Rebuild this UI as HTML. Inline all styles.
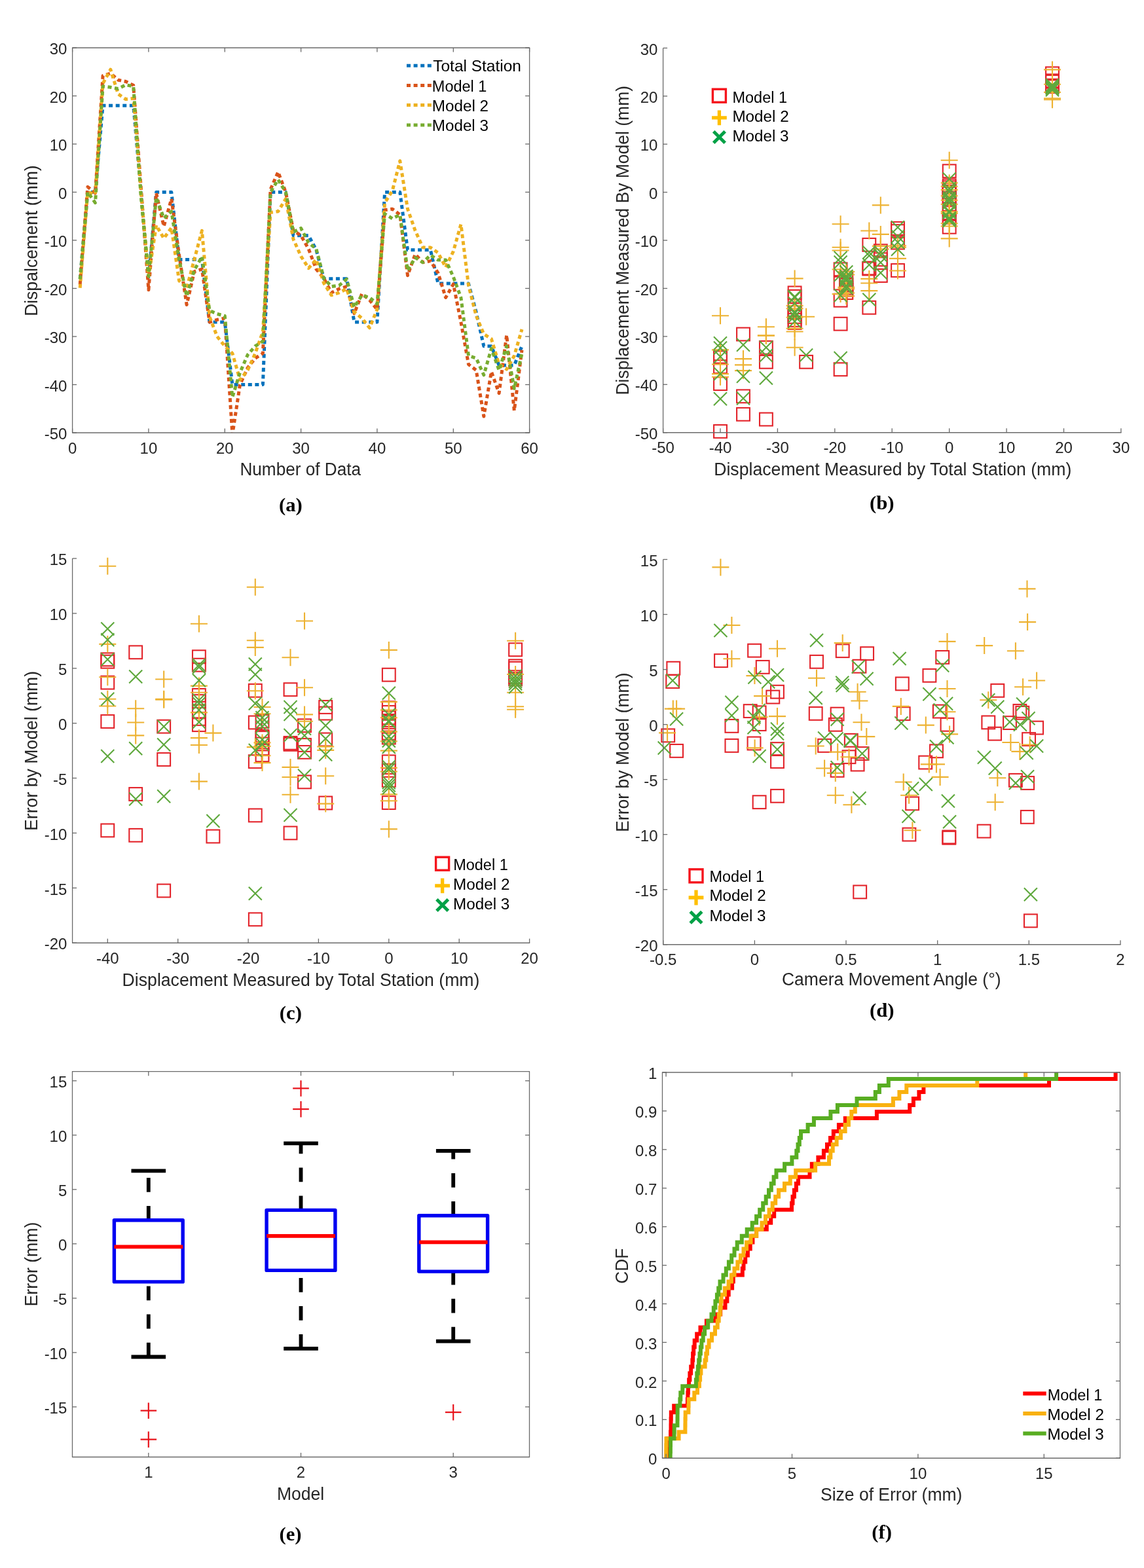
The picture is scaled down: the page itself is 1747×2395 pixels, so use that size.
<!DOCTYPE html>
<html><head><meta charset="utf-8"><style>
html,body{margin:0;padding:0;background:#fff;}
svg{display:block;}
.tk{font-family:"Liberation Sans",Arial,sans-serif;font-size:24.6px;fill:#262626;}
.lb{font-family:"Liberation Sans",Arial,sans-serif;font-size:27px;fill:#262626;}
.lg{font-family:"Liberation Sans",Arial,sans-serif;font-size:24.6px;fill:#000;}
.pl{font-family:"Liberation Serif","Times New Roman",serif;font-weight:bold;font-size:29px;fill:#000;}
</style></head><body>
<svg xmlns="http://www.w3.org/2000/svg" width="1747" height="2395" viewBox="0 0 1747 2395">
<rect width="1747" height="2395" fill="#fff"/>
<clipPath id="clipA"><rect x="110.6" y="73" width="698.0" height="588"/></clipPath>
<g clip-path="url(#clipA)">
<polyline points="122.2,425.8 133.9,293.5 145.5,293.5 157.1,161.2 168.8,161.2 180.4,161.2 192,161.2 203.7,161.2 215.3,293.5 226.9,425.8 238.6,293.5 250.2,293.5 261.8,293.5 273.5,396.4 285.1,396.4 296.7,396.4 308.4,396.4 320,492 331.6,492 343.3,492 354.9,587.5 366.5,587.5 378.2,587.5 389.8,587.5 401.4,587.5 413.1,293.5 424.7,293.5 436.3,293.5 448,359.7 459.6,359.7 471.2,359.7 482.9,381.7 494.5,425.8 506.1,425.8 517.8,425.8 529.4,425.8 541,492 552.7,492 564.3,492 575.9,492 587.6,293.5 599.2,293.5 610.8,293.5 622.5,381.7 634.1,381.7 645.7,381.7 657.4,381.7 669,433.1 680.6,433.1 692.3,433.1 703.9,433.1 715.5,433.1 727.2,477.2 738.8,528.7 750.4,528.7 762.1,558.1 773.7,558.1 785.3,558.1 797,528.7" fill="none" stroke="#0072BD" stroke-width="5" stroke-dasharray="6 4.6" stroke-linejoin="round"/>
<polyline points="122.2,434.6 133.9,285.4 145.5,295 157.1,115.6 168.8,112 180.4,122.2 192,124.5 203.7,130.3 215.3,286.2 226.9,442.7 238.6,295 250.2,345.7 261.8,303.8 273.5,389.1 285.1,465.5 296.7,414.8 308.4,411.1 320,492 331.6,488.3 343.3,486.1 354.9,663.9 366.5,587.5 378.2,561.8 389.8,547.1 401.4,539.7 413.1,289.1 424.7,262.6 436.3,293.5 448,352.3 459.6,359.7 471.2,380.2 482.9,411.1 494.5,425.1 506.1,447.1 517.8,441.2 529.4,437.6 541,478.7 552.7,448.6 564.3,458.1 575.9,472.8 587.6,320.7 599.2,319.2 610.8,328 622.5,420.7 634.1,388.3 645.7,400.8 657.4,398.6 669,417 680.6,454.5 692.3,433.9 703.9,492 715.5,556.6 727.2,565.5 738.8,636 750.4,567.7 762.1,600.7 773.7,511.8 785.3,627.2 797,534.6" fill="none" stroke="#D95319" stroke-width="5" stroke-dasharray="6 4.6" stroke-linejoin="round"/>
<polyline points="122.2,439.8 133.9,293.5 145.5,296.4 157.1,127.4 168.8,106.1 180.4,143.6 192,151.6 203.7,150.2 215.3,293.5 226.9,422.1 238.6,344.2 250.2,364.1 261.8,347.9 273.5,428.7 285.1,440.5 296.7,396.4 308.4,352.3 320,483.9 331.6,514 343.3,528.7 354.9,539.7 366.5,580.1 378.2,565.5 389.8,539.7 401.4,506.6 413.1,324.4 424.7,322.9 436.3,303.8 448,365.5 459.6,391.3 471.2,409.6 482.9,396.4 494.5,432.4 506.1,450.8 517.8,447.1 529.4,441.2 541,476.5 552.7,486.1 564.3,500.8 575.9,472.8 587.6,309.7 599.2,291.3 610.8,245.7 622.5,319.2 634.1,352.3 645.7,378 657.4,378 669,386.1 680.6,408.2 692.3,383.9 703.9,342.7 715.5,436.1 727.2,482.4 738.8,510.3 750.4,517.7 762.1,556.6 773.7,564 785.3,543.4 797,503" fill="none" stroke="#EDB120" stroke-width="5" stroke-dasharray="6 4.6" stroke-linejoin="round"/>
<polyline points="122.2,426.5 133.9,293.5 145.5,309.7 157.1,131.8 168.8,133.3 180.4,135.5 192,129.6 203.7,131.8 215.3,300.8 226.9,422.1 238.6,301.6 250.2,333.2 261.8,322.9 273.5,396.4 285.1,452.3 296.7,412.6 308.4,392 320,474.3 331.6,479.5 343.3,482.4 354.9,606.6 366.5,569.1 378.2,541.9 389.8,528.7 401.4,521.4 413.1,293.5 424.7,274.4 436.3,293.5 448,354.5 459.6,348.6 471.2,370.7 482.9,380.2 494.5,425.1 506.1,437.6 517.8,436.1 529.4,426.5 541,469.2 552.7,450.8 564.3,454.5 575.9,464 587.6,326.6 599.2,333.9 610.8,328 622.5,413.3 634.1,393.5 645.7,400.8 657.4,389.8 669,397.1 680.6,397.1 692.3,422.9 703.9,454.5 715.5,543.4 727.2,547.1 738.8,572.8 750.4,532.4 762.1,565.5 773.7,528.7 785.3,593.4 797,539.7" fill="none" stroke="#77AC30" stroke-width="5" stroke-dasharray="6 4.6" stroke-linejoin="round"/>
</g>
<line x1="110.6" y1="73" x2="110.6" y2="661" stroke="#6a6a6a" stroke-width="1.3"/>
<line x1="110" y1="661" x2="809.2" y2="661" stroke="#6a6a6a" stroke-width="1.6"/>
<line x1="808.6" y1="73" x2="808.6" y2="661" stroke="#6a6a6a" stroke-width="1.3"/>
<line x1="110" y1="73" x2="809.2" y2="73" stroke="#6a6a6a" stroke-width="1.3"/>
<line x1="110.6" y1="661" x2="110.6" y2="654.5" stroke="#6a6a6a" stroke-width="1.3"/>
<line x1="110.6" y1="73" x2="110.6" y2="79.5" stroke="#6a6a6a" stroke-width="1.3"/>
<text x="103.93" y="692.60" class="tk" textLength="13.34" lengthAdjust="spacingAndGlyphs">0</text>
<line x1="226.9" y1="661" x2="226.9" y2="654.5" stroke="#6a6a6a" stroke-width="1.3"/>
<line x1="226.9" y1="73" x2="226.9" y2="79.5" stroke="#6a6a6a" stroke-width="1.3"/>
<text x="213.59" y="692.60" class="tk" textLength="26.68" lengthAdjust="spacingAndGlyphs">10</text>
<line x1="343.3" y1="661" x2="343.3" y2="654.5" stroke="#6a6a6a" stroke-width="1.3"/>
<line x1="343.3" y1="73" x2="343.3" y2="79.5" stroke="#6a6a6a" stroke-width="1.3"/>
<text x="329.93" y="692.60" class="tk" textLength="26.68" lengthAdjust="spacingAndGlyphs">20</text>
<line x1="459.6" y1="661" x2="459.6" y2="654.5" stroke="#6a6a6a" stroke-width="1.3"/>
<line x1="459.6" y1="73" x2="459.6" y2="79.5" stroke="#6a6a6a" stroke-width="1.3"/>
<text x="446.26" y="692.60" class="tk" textLength="26.68" lengthAdjust="spacingAndGlyphs">30</text>
<line x1="575.9" y1="661" x2="575.9" y2="654.5" stroke="#6a6a6a" stroke-width="1.3"/>
<line x1="575.9" y1="73" x2="575.9" y2="79.5" stroke="#6a6a6a" stroke-width="1.3"/>
<text x="562.59" y="692.60" class="tk" textLength="26.68" lengthAdjust="spacingAndGlyphs">40</text>
<line x1="692.3" y1="661" x2="692.3" y2="654.5" stroke="#6a6a6a" stroke-width="1.3"/>
<line x1="692.3" y1="73" x2="692.3" y2="79.5" stroke="#6a6a6a" stroke-width="1.3"/>
<text x="678.93" y="692.60" class="tk" textLength="26.68" lengthAdjust="spacingAndGlyphs">50</text>
<line x1="808.6" y1="661" x2="808.6" y2="654.5" stroke="#6a6a6a" stroke-width="1.3"/>
<line x1="808.6" y1="73" x2="808.6" y2="79.5" stroke="#6a6a6a" stroke-width="1.3"/>
<text x="795.26" y="692.60" class="tk" textLength="26.68" lengthAdjust="spacingAndGlyphs">60</text>
<line x1="110.6" y1="661" x2="117.1" y2="661" stroke="#6a6a6a" stroke-width="1.3"/>
<line x1="808.6" y1="661" x2="802.1" y2="661" stroke="#6a6a6a" stroke-width="1.3"/>
<text x="67.73" y="671.20" class="tk" textLength="34.67" lengthAdjust="spacingAndGlyphs">-50</text>
<line x1="110.6" y1="587.5" x2="117.1" y2="587.5" stroke="#6a6a6a" stroke-width="1.3"/>
<line x1="808.6" y1="587.5" x2="802.1" y2="587.5" stroke="#6a6a6a" stroke-width="1.3"/>
<text x="67.73" y="597.70" class="tk" textLength="34.67" lengthAdjust="spacingAndGlyphs">-40</text>
<line x1="110.6" y1="514" x2="117.1" y2="514" stroke="#6a6a6a" stroke-width="1.3"/>
<line x1="808.6" y1="514" x2="802.1" y2="514" stroke="#6a6a6a" stroke-width="1.3"/>
<text x="67.73" y="524.20" class="tk" textLength="34.67" lengthAdjust="spacingAndGlyphs">-30</text>
<line x1="110.6" y1="440.5" x2="117.1" y2="440.5" stroke="#6a6a6a" stroke-width="1.3"/>
<line x1="808.6" y1="440.5" x2="802.1" y2="440.5" stroke="#6a6a6a" stroke-width="1.3"/>
<text x="67.73" y="450.70" class="tk" textLength="34.67" lengthAdjust="spacingAndGlyphs">-20</text>
<line x1="110.6" y1="367" x2="117.1" y2="367" stroke="#6a6a6a" stroke-width="1.3"/>
<line x1="808.6" y1="367" x2="802.1" y2="367" stroke="#6a6a6a" stroke-width="1.3"/>
<text x="67.73" y="377.20" class="tk" textLength="34.67" lengthAdjust="spacingAndGlyphs">-10</text>
<line x1="110.6" y1="293.5" x2="117.1" y2="293.5" stroke="#6a6a6a" stroke-width="1.3"/>
<line x1="808.6" y1="293.5" x2="802.1" y2="293.5" stroke="#6a6a6a" stroke-width="1.3"/>
<text x="89.06" y="303.70" class="tk" textLength="13.34" lengthAdjust="spacingAndGlyphs">0</text>
<line x1="110.6" y1="220" x2="117.1" y2="220" stroke="#6a6a6a" stroke-width="1.3"/>
<line x1="808.6" y1="220" x2="802.1" y2="220" stroke="#6a6a6a" stroke-width="1.3"/>
<text x="75.72" y="230.20" class="tk" textLength="26.68" lengthAdjust="spacingAndGlyphs">10</text>
<line x1="110.6" y1="146.5" x2="117.1" y2="146.5" stroke="#6a6a6a" stroke-width="1.3"/>
<line x1="808.6" y1="146.5" x2="802.1" y2="146.5" stroke="#6a6a6a" stroke-width="1.3"/>
<text x="75.72" y="156.70" class="tk" textLength="26.68" lengthAdjust="spacingAndGlyphs">20</text>
<line x1="110.6" y1="73" x2="117.1" y2="73" stroke="#6a6a6a" stroke-width="1.3"/>
<line x1="808.6" y1="73" x2="802.1" y2="73" stroke="#6a6a6a" stroke-width="1.3"/>
<text x="75.72" y="83.20" class="tk" textLength="26.68" lengthAdjust="spacingAndGlyphs">30</text>
<text x="366.44" y="726.20" class="lb" textLength="184.63" lengthAdjust="spacingAndGlyphs">Number of Data</text>
<text transform="translate(56.90,480.90) rotate(-90)" x="-2.20" y="0" class="lb" textLength="230.81" lengthAdjust="spacingAndGlyphs">Dispalcement (mm)</text>
<line x1="621" y1="100.2" x2="659" y2="100.2" stroke="#0072BD" stroke-width="5" stroke-dasharray="6 4.6"/>
<text x="661.25" y="109.30" class="lg" textLength="134.61" lengthAdjust="spacingAndGlyphs">Total Station</text>
<line x1="621" y1="130.5" x2="659" y2="130.5" stroke="#D95319" stroke-width="5" stroke-dasharray="6 4.6"/>
<text x="659.86" y="139.60" class="lg" textLength="83.56" lengthAdjust="spacingAndGlyphs">Model 1</text>
<line x1="621" y1="160.4" x2="659" y2="160.4" stroke="#EDB120" stroke-width="5" stroke-dasharray="6 4.6"/>
<text x="659.80" y="169.50" class="lg" textLength="86.32" lengthAdjust="spacingAndGlyphs">Model 2</text>
<line x1="621" y1="190.9" x2="659" y2="190.9" stroke="#77AC30" stroke-width="5" stroke-dasharray="6 4.6"/>
<text x="659.80" y="200.00" class="lg" textLength="86.13" lengthAdjust="spacingAndGlyphs">Model 3</text>
<text x="425.98" y="780.80" class="pl" textLength="35.84" lengthAdjust="spacingAndGlyphs">(a)</text>
<rect x="1090.1" y="534.8" width="19.8" height="19.8" fill="none" stroke="#E3242B" stroke-width="2.1"/>
<rect x="1090.1" y="536.3" width="19.8" height="19.8" fill="none" stroke="#E3242B" stroke-width="2.1"/>
<rect x="1090.1" y="550.2" width="19.8" height="19.8" fill="none" stroke="#E3242B" stroke-width="2.1"/>
<rect x="1090.1" y="576.2" width="19.8" height="19.8" fill="none" stroke="#E3242B" stroke-width="2.1"/>
<rect x="1090.1" y="649" width="19.8" height="19.8" fill="none" stroke="#E3242B" stroke-width="2.1"/>
<rect x="1125.1" y="500.6" width="19.8" height="19.8" fill="none" stroke="#E3242B" stroke-width="2.1"/>
<rect x="1125.1" y="595.4" width="19.8" height="19.8" fill="none" stroke="#E3242B" stroke-width="2.1"/>
<rect x="1125.1" y="622.9" width="19.8" height="19.8" fill="none" stroke="#E3242B" stroke-width="2.1"/>
<rect x="1160" y="520.9" width="19.8" height="19.8" fill="none" stroke="#E3242B" stroke-width="2.1"/>
<rect x="1160" y="542.9" width="19.8" height="19.8" fill="none" stroke="#E3242B" stroke-width="2.1"/>
<rect x="1160" y="630.6" width="19.8" height="19.8" fill="none" stroke="#E3242B" stroke-width="2.1"/>
<rect x="1203.7" y="437.5" width="19.8" height="19.8" fill="none" stroke="#E3242B" stroke-width="2.1"/>
<rect x="1203.7" y="443" width="19.8" height="19.8" fill="none" stroke="#E3242B" stroke-width="2.1"/>
<rect x="1203.7" y="463.2" width="19.8" height="19.8" fill="none" stroke="#E3242B" stroke-width="2.1"/>
<rect x="1203.7" y="467.3" width="19.8" height="19.8" fill="none" stroke="#E3242B" stroke-width="2.1"/>
<rect x="1203.7" y="474" width="19.8" height="19.8" fill="none" stroke="#E3242B" stroke-width="2.1"/>
<rect x="1203.7" y="479" width="19.8" height="19.8" fill="none" stroke="#E3242B" stroke-width="2.1"/>
<rect x="1203.7" y="483.1" width="19.8" height="19.8" fill="none" stroke="#E3242B" stroke-width="2.1"/>
<rect x="1221.2" y="542.9" width="19.8" height="19.8" fill="none" stroke="#E3242B" stroke-width="2.1"/>
<rect x="1273.7" y="401.4" width="19.8" height="19.8" fill="none" stroke="#E3242B" stroke-width="2.1"/>
<rect x="1273.7" y="422.7" width="19.8" height="19.8" fill="none" stroke="#E3242B" stroke-width="2.1"/>
<rect x="1273.7" y="448.8" width="19.8" height="19.8" fill="none" stroke="#E3242B" stroke-width="2.1"/>
<rect x="1273.7" y="484.8" width="19.8" height="19.8" fill="none" stroke="#E3242B" stroke-width="2.1"/>
<rect x="1273.7" y="554.3" width="19.8" height="19.8" fill="none" stroke="#E3242B" stroke-width="2.1"/>
<rect x="1282.4" y="414.6" width="19.8" height="19.8" fill="none" stroke="#E3242B" stroke-width="2.1"/>
<rect x="1282.4" y="425.6" width="19.8" height="19.8" fill="none" stroke="#E3242B" stroke-width="2.1"/>
<rect x="1282.4" y="429.8" width="19.8" height="19.8" fill="none" stroke="#E3242B" stroke-width="2.1"/>
<rect x="1282.4" y="437.2" width="19.8" height="19.8" fill="none" stroke="#E3242B" stroke-width="2.1"/>
<rect x="1282.4" y="424.7" width="19.8" height="19.8" fill="none" stroke="#E3242B" stroke-width="2.1"/>
<rect x="1282.4" y="432.8" width="19.8" height="19.8" fill="none" stroke="#E3242B" stroke-width="2.1"/>
<rect x="1317.4" y="364" width="19.8" height="19.8" fill="none" stroke="#E3242B" stroke-width="2.1"/>
<rect x="1317.4" y="400.6" width="19.8" height="19.8" fill="none" stroke="#E3242B" stroke-width="2.1"/>
<rect x="1317.4" y="399.7" width="19.8" height="19.8" fill="none" stroke="#E3242B" stroke-width="2.1"/>
<rect x="1317.4" y="459.9" width="19.8" height="19.8" fill="none" stroke="#E3242B" stroke-width="2.1"/>
<rect x="1334.9" y="373.4" width="19.8" height="19.8" fill="none" stroke="#E3242B" stroke-width="2.1"/>
<rect x="1334.9" y="386.4" width="19.8" height="19.8" fill="none" stroke="#E3242B" stroke-width="2.1"/>
<rect x="1334.9" y="391.2" width="19.8" height="19.8" fill="none" stroke="#E3242B" stroke-width="2.1"/>
<rect x="1334.9" y="411.1" width="19.8" height="19.8" fill="none" stroke="#E3242B" stroke-width="2.1"/>
<rect x="1361.1" y="339" width="19.8" height="19.8" fill="none" stroke="#E3242B" stroke-width="2.1"/>
<rect x="1361.1" y="343.2" width="19.8" height="19.8" fill="none" stroke="#E3242B" stroke-width="2.1"/>
<rect x="1361.1" y="360.7" width="19.8" height="19.8" fill="none" stroke="#E3242B" stroke-width="2.1"/>
<rect x="1361.1" y="403.1" width="19.8" height="19.8" fill="none" stroke="#E3242B" stroke-width="2.1"/>
<rect x="1439.8" y="251.4" width="19.8" height="19.8" fill="none" stroke="#E3242B" stroke-width="2.1"/>
<rect x="1439.8" y="273.5" width="19.8" height="19.8" fill="none" stroke="#E3242B" stroke-width="2.1"/>
<rect x="1439.8" y="276.4" width="19.8" height="19.8" fill="none" stroke="#E3242B" stroke-width="2.1"/>
<rect x="1439.8" y="280.1" width="19.8" height="19.8" fill="none" stroke="#E3242B" stroke-width="2.1"/>
<rect x="1439.8" y="283" width="19.8" height="19.8" fill="none" stroke="#E3242B" stroke-width="2.1"/>
<rect x="1439.8" y="285.9" width="19.8" height="19.8" fill="none" stroke="#E3242B" stroke-width="2.1"/>
<rect x="1439.8" y="290.3" width="19.8" height="19.8" fill="none" stroke="#E3242B" stroke-width="2.1"/>
<rect x="1439.8" y="293.3" width="19.8" height="19.8" fill="none" stroke="#E3242B" stroke-width="2.1"/>
<rect x="1439.8" y="309.4" width="19.8" height="19.8" fill="none" stroke="#E3242B" stroke-width="2.1"/>
<rect x="1439.8" y="315.3" width="19.8" height="19.8" fill="none" stroke="#E3242B" stroke-width="2.1"/>
<rect x="1439.8" y="321.9" width="19.8" height="19.8" fill="none" stroke="#E3242B" stroke-width="2.1"/>
<rect x="1439.8" y="336.9" width="19.8" height="19.8" fill="none" stroke="#E3242B" stroke-width="2.1"/>
<rect x="1597.1" y="102.4" width="19.8" height="19.8" fill="none" stroke="#E3242B" stroke-width="2.1"/>
<rect x="1597.1" y="113.4" width="19.8" height="19.8" fill="none" stroke="#E3242B" stroke-width="2.1"/>
<rect x="1597.1" y="114.9" width="19.8" height="19.8" fill="none" stroke="#E3242B" stroke-width="2.1"/>
<rect x="1597.1" y="120.8" width="19.8" height="19.8" fill="none" stroke="#E3242B" stroke-width="2.1"/>
<rect x="1597.1" y="122.2" width="19.8" height="19.8" fill="none" stroke="#E3242B" stroke-width="2.1"/>
<path d="M1087 482.3H1113M1100 469.3V495.3" stroke="#EDB232" stroke-width="2.1" fill="none"/>
<path d="M1087 534.4H1113M1100 521.4V547.4" stroke="#EDB232" stroke-width="2.1" fill="none"/>
<path d="M1087 556.5H1113M1100 543.5V569.5" stroke="#EDB232" stroke-width="2.1" fill="none"/>
<path d="M1087 571.1H1113M1100 558.1V584.1" stroke="#EDB232" stroke-width="2.1" fill="none"/>
<path d="M1087 575.8H1113M1100 562.8V588.8" stroke="#EDB232" stroke-width="2.1" fill="none"/>
<path d="M1122 548.1H1148M1135 535.1V561.1" stroke="#EDB232" stroke-width="2.1" fill="none"/>
<path d="M1122 557.4H1148M1135 544.4V570.4" stroke="#EDB232" stroke-width="2.1" fill="none"/>
<path d="M1122 566.1H1148M1135 553.1V579.1" stroke="#EDB232" stroke-width="2.1" fill="none"/>
<path d="M1156.9 499.2H1182.9M1169.9 486.2V512.2" stroke="#EDB232" stroke-width="2.1" fill="none"/>
<path d="M1156.9 512.8H1182.9M1169.9 499.8V525.8" stroke="#EDB232" stroke-width="2.1" fill="none"/>
<path d="M1156.9 512.4H1182.9M1169.9 499.4V525.4" stroke="#EDB232" stroke-width="2.1" fill="none"/>
<path d="M1200.6 425.4H1226.6M1213.6 412.4V438.4" stroke="#EDB232" stroke-width="2.1" fill="none"/>
<path d="M1200.6 466.9H1226.6M1213.6 453.9V479.9" stroke="#EDB232" stroke-width="2.1" fill="none"/>
<path d="M1200.6 471.3H1226.6M1213.6 458.3V484.3" stroke="#EDB232" stroke-width="2.1" fill="none"/>
<path d="M1200.6 484.7H1226.6M1213.6 471.7V497.7" stroke="#EDB232" stroke-width="2.1" fill="none"/>
<path d="M1200.6 501.7H1226.6M1213.6 488.7V514.7" stroke="#EDB232" stroke-width="2.1" fill="none"/>
<path d="M1200.6 506.5H1226.6M1213.6 493.5V519.5" stroke="#EDB232" stroke-width="2.1" fill="none"/>
<path d="M1200.6 530.8H1226.6M1213.6 517.8V543.8" stroke="#EDB232" stroke-width="2.1" fill="none"/>
<path d="M1218.1 483.7H1244.1M1231.1 470.7V496.7" stroke="#EDB232" stroke-width="2.1" fill="none"/>
<path d="M1270.6 342.2H1296.6M1283.6 329.2V355.2" stroke="#EDB232" stroke-width="2.1" fill="none"/>
<path d="M1270.6 377.8H1296.6M1283.6 364.8V390.8" stroke="#EDB232" stroke-width="2.1" fill="none"/>
<path d="M1270.6 382.5H1296.6M1283.6 369.5V395.5" stroke="#EDB232" stroke-width="2.1" fill="none"/>
<path d="M1270.6 411.5H1296.6M1283.6 398.5V424.5" stroke="#EDB232" stroke-width="2.1" fill="none"/>
<path d="M1270.6 449.1H1296.6M1283.6 436.1V462.1" stroke="#EDB232" stroke-width="2.1" fill="none"/>
<path d="M1279.3 415H1305.3M1292.3 402V428" stroke="#EDB232" stroke-width="2.1" fill="none"/>
<path d="M1279.3 419.5H1305.3M1292.3 406.5V432.5" stroke="#EDB232" stroke-width="2.1" fill="none"/>
<path d="M1279.3 438.8H1305.3M1292.3 425.8V451.8" stroke="#EDB232" stroke-width="2.1" fill="none"/>
<path d="M1279.3 441.2H1305.3M1292.3 428.2V454.2" stroke="#EDB232" stroke-width="2.1" fill="none"/>
<path d="M1279.3 447.5H1305.3M1292.3 434.5V460.5" stroke="#EDB232" stroke-width="2.1" fill="none"/>
<path d="M1279.3 452.2H1305.3M1292.3 439.2V465.2" stroke="#EDB232" stroke-width="2.1" fill="none"/>
<path d="M1314.3 352.5H1340.3M1327.3 339.5V365.5" stroke="#EDB232" stroke-width="2.1" fill="none"/>
<path d="M1314.3 425.9H1340.3M1327.3 412.9V438.9" stroke="#EDB232" stroke-width="2.1" fill="none"/>
<path d="M1314.3 432.5H1340.3M1327.3 419.5V445.5" stroke="#EDB232" stroke-width="2.1" fill="none"/>
<path d="M1314.3 444.1H1340.3M1327.3 431.1V457.1" stroke="#EDB232" stroke-width="2.1" fill="none"/>
<path d="M1331.8 313.4H1357.8M1344.8 300.4V326.4" stroke="#EDB232" stroke-width="2.1" fill="none"/>
<path d="M1331.8 357.9H1357.8M1344.8 344.9V370.9" stroke="#EDB232" stroke-width="2.1" fill="none"/>
<path d="M1331.8 375.9H1357.8M1344.8 362.9V388.9" stroke="#EDB232" stroke-width="2.1" fill="none"/>
<path d="M1331.8 380.5H1357.8M1344.8 367.5V393.5" stroke="#EDB232" stroke-width="2.1" fill="none"/>
<path d="M1358 375.3H1384M1371 362.3V388.3" stroke="#EDB232" stroke-width="2.1" fill="none"/>
<path d="M1358 377.8H1384M1371 364.8V390.8" stroke="#EDB232" stroke-width="2.1" fill="none"/>
<path d="M1358 394.9H1384M1371 381.9V407.9" stroke="#EDB232" stroke-width="2.1" fill="none"/>
<path d="M1358 413.5H1384M1371 400.5V426.5" stroke="#EDB232" stroke-width="2.1" fill="none"/>
<path d="M1436.7 244.7H1462.7M1449.7 231.7V257.7" stroke="#EDB232" stroke-width="2.1" fill="none"/>
<path d="M1436.7 279.4H1462.7M1449.7 266.4V292.4" stroke="#EDB232" stroke-width="2.1" fill="none"/>
<path d="M1436.7 284.8H1462.7M1449.7 271.8V297.8" stroke="#EDB232" stroke-width="2.1" fill="none"/>
<path d="M1436.7 290H1462.7M1449.7 277V303" stroke="#EDB232" stroke-width="2.1" fill="none"/>
<path d="M1436.7 299.3H1462.7M1449.7 286.3V312.3" stroke="#EDB232" stroke-width="2.1" fill="none"/>
<path d="M1436.7 305.7H1462.7M1449.7 292.7V318.7" stroke="#EDB232" stroke-width="2.1" fill="none"/>
<path d="M1436.7 312H1462.7M1449.7 299V325" stroke="#EDB232" stroke-width="2.1" fill="none"/>
<path d="M1436.7 323.4H1462.7M1449.7 310.4V336.4" stroke="#EDB232" stroke-width="2.1" fill="none"/>
<path d="M1436.7 325.9H1462.7M1449.7 312.9V338.9" stroke="#EDB232" stroke-width="2.1" fill="none"/>
<path d="M1436.7 341.2H1462.7M1449.7 328.2V354.2" stroke="#EDB232" stroke-width="2.1" fill="none"/>
<path d="M1436.7 345.5H1462.7M1449.7 332.5V358.5" stroke="#EDB232" stroke-width="2.1" fill="none"/>
<path d="M1436.7 364.4H1462.7M1449.7 351.4V377.4" stroke="#EDB232" stroke-width="2.1" fill="none"/>
<path d="M1594 106.4H1620M1607 93.4V119.4" stroke="#EDB232" stroke-width="2.1" fill="none"/>
<path d="M1594 128.8H1620M1607 115.8V141.8" stroke="#EDB232" stroke-width="2.1" fill="none"/>
<path d="M1594 140.9H1620M1607 127.9V153.9" stroke="#EDB232" stroke-width="2.1" fill="none"/>
<path d="M1594 150.4H1620M1607 137.4V163.4" stroke="#EDB232" stroke-width="2.1" fill="none"/>
<path d="M1594 152.3H1620M1607 139.3V165.3" stroke="#EDB232" stroke-width="2.1" fill="none"/>
<path d="M1090 514.2L1110 534.2M1090 534.2L1110 514.2" stroke="#5EA83C" stroke-width="2.1" fill="none"/>
<path d="M1090 521.5L1110 541.5M1090 541.5L1110 521.5" stroke="#5EA83C" stroke-width="2.1" fill="none"/>
<path d="M1090 534.7L1110 554.7M1090 554.7L1110 534.7" stroke="#5EA83C" stroke-width="2.1" fill="none"/>
<path d="M1090 561.1L1110 581.1M1090 581.1L1110 561.1" stroke="#5EA83C" stroke-width="2.1" fill="none"/>
<path d="M1090 599.3L1110 619.3M1090 619.3L1110 599.3" stroke="#5EA83C" stroke-width="2.1" fill="none"/>
<path d="M1125 516.7L1145 536.7M1125 536.7L1145 516.7" stroke="#5EA83C" stroke-width="2.1" fill="none"/>
<path d="M1125 564.8L1145 584.8M1125 584.8L1145 564.8" stroke="#5EA83C" stroke-width="2.1" fill="none"/>
<path d="M1125 598.6L1145 618.6M1125 618.6L1145 598.6" stroke="#5EA83C" stroke-width="2.1" fill="none"/>
<path d="M1159.9 520.8L1179.9 540.8M1159.9 540.8L1179.9 520.8" stroke="#5EA83C" stroke-width="2.1" fill="none"/>
<path d="M1159.9 532.9L1179.9 552.9M1159.9 552.9L1179.9 532.9" stroke="#5EA83C" stroke-width="2.1" fill="none"/>
<path d="M1159.9 567.4L1179.9 587.4M1159.9 587.4L1179.9 567.4" stroke="#5EA83C" stroke-width="2.1" fill="none"/>
<path d="M1203.6 442.9L1223.6 462.9M1203.6 462.9L1223.6 442.9" stroke="#5EA83C" stroke-width="2.1" fill="none"/>
<path d="M1203.6 444.4L1223.6 464.4M1203.6 464.4L1223.6 444.4" stroke="#5EA83C" stroke-width="2.1" fill="none"/>
<path d="M1203.6 453.2L1223.6 473.2M1203.6 473.2L1223.6 453.2" stroke="#5EA83C" stroke-width="2.1" fill="none"/>
<path d="M1203.6 466.4L1223.6 486.4M1203.6 486.4L1223.6 466.4" stroke="#5EA83C" stroke-width="2.1" fill="none"/>
<path d="M1203.6 468.6L1223.6 488.6M1203.6 488.6L1223.6 468.6" stroke="#5EA83C" stroke-width="2.1" fill="none"/>
<path d="M1203.6 473L1223.6 493M1203.6 493L1223.6 473" stroke="#5EA83C" stroke-width="2.1" fill="none"/>
<path d="M1203.6 481.1L1223.6 501.1M1203.6 501.1L1223.6 481.1" stroke="#5EA83C" stroke-width="2.1" fill="none"/>
<path d="M1221.1 532.5L1241.1 552.5M1221.1 552.5L1241.1 532.5" stroke="#5EA83C" stroke-width="2.1" fill="none"/>
<path d="M1273.6 383.7L1293.6 403.7M1273.6 403.7L1293.6 383.7" stroke="#5EA83C" stroke-width="2.1" fill="none"/>
<path d="M1273.6 390.6L1293.6 410.6M1273.6 410.6L1293.6 390.6" stroke="#5EA83C" stroke-width="2.1" fill="none"/>
<path d="M1273.6 409.9L1293.6 429.9M1273.6 429.9L1293.6 409.9" stroke="#5EA83C" stroke-width="2.1" fill="none"/>
<path d="M1273.6 441.2L1293.6 461.2M1273.6 461.2L1293.6 441.2" stroke="#5EA83C" stroke-width="2.1" fill="none"/>
<path d="M1273.6 536.9L1293.6 556.9M1273.6 556.9L1293.6 536.9" stroke="#5EA83C" stroke-width="2.1" fill="none"/>
<path d="M1282.3 405.5L1302.3 425.5M1282.3 425.5L1302.3 405.5" stroke="#5EA83C" stroke-width="2.1" fill="none"/>
<path d="M1282.3 415L1302.3 435M1282.3 435L1302.3 415" stroke="#5EA83C" stroke-width="2.1" fill="none"/>
<path d="M1282.3 426.8L1302.3 446.8M1282.3 446.8L1302.3 426.8" stroke="#5EA83C" stroke-width="2.1" fill="none"/>
<path d="M1282.3 429.9L1302.3 449.9M1282.3 449.9L1302.3 429.9" stroke="#5EA83C" stroke-width="2.1" fill="none"/>
<path d="M1282.3 412.1L1302.3 432.1M1282.3 432.1L1302.3 412.1" stroke="#5EA83C" stroke-width="2.1" fill="none"/>
<path d="M1282.3 418L1302.3 438M1282.3 438L1302.3 418" stroke="#5EA83C" stroke-width="2.1" fill="none"/>
<path d="M1317.3 375.6L1337.3 395.6M1317.3 395.6L1337.3 375.6" stroke="#5EA83C" stroke-width="2.1" fill="none"/>
<path d="M1317.3 380.4L1337.3 400.4M1317.3 400.4L1337.3 380.4" stroke="#5EA83C" stroke-width="2.1" fill="none"/>
<path d="M1317.3 394.5L1337.3 414.5M1317.3 414.5L1337.3 394.5" stroke="#5EA83C" stroke-width="2.1" fill="none"/>
<path d="M1317.3 447.8L1337.3 467.8M1317.3 467.8L1337.3 447.8" stroke="#5EA83C" stroke-width="2.1" fill="none"/>
<path d="M1334.8 375.3L1354.8 395.3M1334.8 395.3L1354.8 375.3" stroke="#5EA83C" stroke-width="2.1" fill="none"/>
<path d="M1334.8 380L1354.8 400M1334.8 400L1354.8 380" stroke="#5EA83C" stroke-width="2.1" fill="none"/>
<path d="M1334.8 391.1L1354.8 411.1M1334.8 411.1L1354.8 391.1" stroke="#5EA83C" stroke-width="2.1" fill="none"/>
<path d="M1334.8 406.8L1354.8 426.8M1334.8 426.8L1354.8 406.8" stroke="#5EA83C" stroke-width="2.1" fill="none"/>
<path d="M1361 337.3L1381 357.3M1361 357.3L1381 337.3" stroke="#5EA83C" stroke-width="2.1" fill="none"/>
<path d="M1361 351.3L1381 371.3M1361 371.3L1381 351.3" stroke="#5EA83C" stroke-width="2.1" fill="none"/>
<path d="M1361 360.1L1381 380.1M1361 380.1L1381 360.1" stroke="#5EA83C" stroke-width="2.1" fill="none"/>
<path d="M1361 370.7L1381 390.7M1361 390.7L1381 370.7" stroke="#5EA83C" stroke-width="2.1" fill="none"/>
<path d="M1439.7 263.5L1459.7 283.5M1439.7 283.5L1459.7 263.5" stroke="#5EA83C" stroke-width="2.1" fill="none"/>
<path d="M1439.7 278L1459.7 298M1439.7 298L1459.7 278" stroke="#5EA83C" stroke-width="2.1" fill="none"/>
<path d="M1439.7 282L1459.7 302M1439.7 302L1459.7 282" stroke="#5EA83C" stroke-width="2.1" fill="none"/>
<path d="M1439.7 282.8L1459.7 302.8M1439.7 302.8L1459.7 282.8" stroke="#5EA83C" stroke-width="2.1" fill="none"/>
<path d="M1439.7 292.4L1459.7 312.4M1439.7 312.4L1459.7 292.4" stroke="#5EA83C" stroke-width="2.1" fill="none"/>
<path d="M1439.7 295.4L1459.7 315.4M1439.7 315.4L1459.7 295.4" stroke="#5EA83C" stroke-width="2.1" fill="none"/>
<path d="M1439.7 299.5L1459.7 319.5M1439.7 319.5L1459.7 299.5" stroke="#5EA83C" stroke-width="2.1" fill="none"/>
<path d="M1439.7 312.8L1459.7 332.8M1439.7 332.8L1459.7 312.8" stroke="#5EA83C" stroke-width="2.1" fill="none"/>
<path d="M1439.7 314.5L1459.7 334.5M1439.7 334.5L1459.7 314.5" stroke="#5EA83C" stroke-width="2.1" fill="none"/>
<path d="M1439.7 323.3L1459.7 343.3M1439.7 343.3L1459.7 323.3" stroke="#5EA83C" stroke-width="2.1" fill="none"/>
<path d="M1439.7 325.2L1459.7 345.2M1439.7 345.2L1459.7 325.2" stroke="#5EA83C" stroke-width="2.1" fill="none"/>
<path d="M1439.7 327L1459.7 347M1439.7 347L1459.7 327" stroke="#5EA83C" stroke-width="2.1" fill="none"/>
<path d="M1597 119.9L1617 139.9M1597 139.9L1617 119.9" stroke="#5EA83C" stroke-width="2.1" fill="none"/>
<path d="M1597 122.1L1617 142.1M1597 142.1L1617 122.1" stroke="#5EA83C" stroke-width="2.1" fill="none"/>
<path d="M1597 123.6L1617 143.6M1597 143.6L1617 123.6" stroke="#5EA83C" stroke-width="2.1" fill="none"/>
<path d="M1597 125.1L1617 145.1M1597 145.1L1617 125.1" stroke="#5EA83C" stroke-width="2.1" fill="none"/>
<path d="M1597 127.3L1617 147.3M1597 147.3L1617 127.3" stroke="#5EA83C" stroke-width="2.1" fill="none"/>
<line x1="1012.6" y1="73.4" x2="1012.6" y2="660.7" stroke="#6a6a6a" stroke-width="1.3"/>
<line x1="1012" y1="660.7" x2="1712.5" y2="660.7" stroke="#6a6a6a" stroke-width="1.6"/>
<line x1="1012.6" y1="660.7" x2="1012.6" y2="654.2" stroke="#6a6a6a" stroke-width="1.3"/>
<text x="995.27" y="692.30" class="tk" textLength="34.67" lengthAdjust="spacingAndGlyphs">-50</text>
<line x1="1100" y1="660.7" x2="1100" y2="654.2" stroke="#6a6a6a" stroke-width="1.3"/>
<text x="1082.68" y="692.30" class="tk" textLength="34.67" lengthAdjust="spacingAndGlyphs">-40</text>
<line x1="1187.4" y1="660.7" x2="1187.4" y2="654.2" stroke="#6a6a6a" stroke-width="1.3"/>
<text x="1170.09" y="692.30" class="tk" textLength="34.67" lengthAdjust="spacingAndGlyphs">-30</text>
<line x1="1274.8" y1="660.7" x2="1274.8" y2="654.2" stroke="#6a6a6a" stroke-width="1.3"/>
<text x="1257.50" y="692.30" class="tk" textLength="34.67" lengthAdjust="spacingAndGlyphs">-20</text>
<line x1="1362.2" y1="660.7" x2="1362.2" y2="654.2" stroke="#6a6a6a" stroke-width="1.3"/>
<text x="1344.92" y="692.30" class="tk" textLength="34.67" lengthAdjust="spacingAndGlyphs">-10</text>
<line x1="1449.7" y1="660.7" x2="1449.7" y2="654.2" stroke="#6a6a6a" stroke-width="1.3"/>
<text x="1442.99" y="692.30" class="tk" textLength="13.34" lengthAdjust="spacingAndGlyphs">0</text>
<line x1="1537.1" y1="660.7" x2="1537.1" y2="654.2" stroke="#6a6a6a" stroke-width="1.3"/>
<text x="1523.74" y="692.30" class="tk" textLength="26.68" lengthAdjust="spacingAndGlyphs">10</text>
<line x1="1624.5" y1="660.7" x2="1624.5" y2="654.2" stroke="#6a6a6a" stroke-width="1.3"/>
<text x="1611.15" y="692.30" class="tk" textLength="26.68" lengthAdjust="spacingAndGlyphs">20</text>
<line x1="1711.9" y1="660.7" x2="1711.9" y2="654.2" stroke="#6a6a6a" stroke-width="1.3"/>
<text x="1698.56" y="692.30" class="tk" textLength="26.68" lengthAdjust="spacingAndGlyphs">30</text>
<line x1="1012.6" y1="660.7" x2="1019.1" y2="660.7" stroke="#6a6a6a" stroke-width="1.3"/>
<text x="969.73" y="670.90" class="tk" textLength="34.67" lengthAdjust="spacingAndGlyphs">-50</text>
<line x1="1012.6" y1="587.3" x2="1019.1" y2="587.3" stroke="#6a6a6a" stroke-width="1.3"/>
<text x="969.73" y="597.49" class="tk" textLength="34.67" lengthAdjust="spacingAndGlyphs">-40</text>
<line x1="1012.6" y1="513.9" x2="1019.1" y2="513.9" stroke="#6a6a6a" stroke-width="1.3"/>
<text x="969.73" y="524.08" class="tk" textLength="34.67" lengthAdjust="spacingAndGlyphs">-30</text>
<line x1="1012.6" y1="440.5" x2="1019.1" y2="440.5" stroke="#6a6a6a" stroke-width="1.3"/>
<text x="969.73" y="450.66" class="tk" textLength="34.67" lengthAdjust="spacingAndGlyphs">-20</text>
<line x1="1012.6" y1="367.1" x2="1019.1" y2="367.1" stroke="#6a6a6a" stroke-width="1.3"/>
<text x="969.73" y="377.25" class="tk" textLength="34.67" lengthAdjust="spacingAndGlyphs">-10</text>
<line x1="1012.6" y1="293.6" x2="1019.1" y2="293.6" stroke="#6a6a6a" stroke-width="1.3"/>
<text x="991.06" y="303.84" class="tk" textLength="13.34" lengthAdjust="spacingAndGlyphs">0</text>
<line x1="1012.6" y1="220.2" x2="1019.1" y2="220.2" stroke="#6a6a6a" stroke-width="1.3"/>
<text x="977.72" y="230.43" class="tk" textLength="26.68" lengthAdjust="spacingAndGlyphs">10</text>
<line x1="1012.6" y1="146.8" x2="1019.1" y2="146.8" stroke="#6a6a6a" stroke-width="1.3"/>
<text x="977.72" y="157.01" class="tk" textLength="26.68" lengthAdjust="spacingAndGlyphs">20</text>
<line x1="1012.6" y1="73.4" x2="1019.1" y2="73.4" stroke="#6a6a6a" stroke-width="1.3"/>
<text x="977.72" y="83.60" class="tk" textLength="26.68" lengthAdjust="spacingAndGlyphs">30</text>
<text x="1090.20" y="726.30" class="lb" textLength="546.21" lengthAdjust="spacingAndGlyphs">Displacement Measured by Total Station (mm)</text>
<text transform="translate(960.10,601.40) rotate(-90)" x="-2.19" y="0" class="lb" textLength="472.66" lengthAdjust="spacingAndGlyphs">Displacement Measured By Model (mm)</text>
<rect x="1088.4" y="136.2" width="20" height="20" fill="none" stroke="#F5141C" stroke-width="3.4"/>
<path d="M1087 179.8H1109.8M1098.4 168.4V191.2" stroke="#FFBF00" stroke-width="5.3" fill="none"/>
<path d="M1089.7 200.8L1107.2 218.3M1089.7 218.3L1107.2 200.8" stroke="#00A146" stroke-width="5" fill="none"/>
<text x="1118.46" y="156.60" class="lg" textLength="83.56" lengthAdjust="spacingAndGlyphs">Model 1</text>
<text x="1118.40" y="185.90" class="lg" textLength="86.32" lengthAdjust="spacingAndGlyphs">Model 2</text>
<text x="1118.40" y="216.40" class="lg" textLength="86.13" lengthAdjust="spacingAndGlyphs">Model 3</text>
<text x="1328.01" y="778.30" class="pl" textLength="37.57" lengthAdjust="spacingAndGlyphs">(b)</text>
<rect x="154.4" y="997.4" width="19.8" height="19.8" fill="none" stroke="#E3242B" stroke-width="2.1"/>
<rect x="154.4" y="1000.8" width="19.8" height="19.8" fill="none" stroke="#E3242B" stroke-width="2.1"/>
<rect x="154.4" y="1032.7" width="19.8" height="19.8" fill="none" stroke="#E3242B" stroke-width="2.1"/>
<rect x="154.4" y="1092.1" width="19.8" height="19.8" fill="none" stroke="#E3242B" stroke-width="2.1"/>
<rect x="154.4" y="1258.5" width="19.8" height="19.8" fill="none" stroke="#E3242B" stroke-width="2.1"/>
<rect x="197.3" y="986.4" width="19.8" height="19.8" fill="none" stroke="#E3242B" stroke-width="2.1"/>
<rect x="197.3" y="1203.1" width="19.8" height="19.8" fill="none" stroke="#E3242B" stroke-width="2.1"/>
<rect x="197.3" y="1265.9" width="19.8" height="19.8" fill="none" stroke="#E3242B" stroke-width="2.1"/>
<rect x="240.3" y="1099.8" width="19.8" height="19.8" fill="none" stroke="#E3242B" stroke-width="2.1"/>
<rect x="240.3" y="1150.1" width="19.8" height="19.8" fill="none" stroke="#E3242B" stroke-width="2.1"/>
<rect x="240.3" y="1350.6" width="19.8" height="19.8" fill="none" stroke="#E3242B" stroke-width="2.1"/>
<rect x="294" y="993.3" width="19.8" height="19.8" fill="none" stroke="#E3242B" stroke-width="2.1"/>
<rect x="294" y="1005.8" width="19.8" height="19.8" fill="none" stroke="#E3242B" stroke-width="2.1"/>
<rect x="294" y="1052" width="19.8" height="19.8" fill="none" stroke="#E3242B" stroke-width="2.1"/>
<rect x="294" y="1061.2" width="19.8" height="19.8" fill="none" stroke="#E3242B" stroke-width="2.1"/>
<rect x="294" y="1076.6" width="19.8" height="19.8" fill="none" stroke="#E3242B" stroke-width="2.1"/>
<rect x="294" y="1088" width="19.8" height="19.8" fill="none" stroke="#E3242B" stroke-width="2.1"/>
<rect x="294" y="1097.3" width="19.8" height="19.8" fill="none" stroke="#E3242B" stroke-width="2.1"/>
<rect x="315.5" y="1267.6" width="19.8" height="19.8" fill="none" stroke="#E3242B" stroke-width="2.1"/>
<rect x="379.9" y="1044.9" width="19.8" height="19.8" fill="none" stroke="#E3242B" stroke-width="2.1"/>
<rect x="379.9" y="1093.6" width="19.8" height="19.8" fill="none" stroke="#E3242B" stroke-width="2.1"/>
<rect x="379.9" y="1153.3" width="19.8" height="19.8" fill="none" stroke="#E3242B" stroke-width="2.1"/>
<rect x="379.9" y="1235.5" width="19.8" height="19.8" fill="none" stroke="#E3242B" stroke-width="2.1"/>
<rect x="379.9" y="1394.4" width="19.8" height="19.8" fill="none" stroke="#E3242B" stroke-width="2.1"/>
<rect x="390.6" y="1091.9" width="19.8" height="19.8" fill="none" stroke="#E3242B" stroke-width="2.1"/>
<rect x="390.6" y="1117.1" width="19.8" height="19.8" fill="none" stroke="#E3242B" stroke-width="2.1"/>
<rect x="390.6" y="1126.6" width="19.8" height="19.8" fill="none" stroke="#E3242B" stroke-width="2.1"/>
<rect x="390.6" y="1143.4" width="19.8" height="19.8" fill="none" stroke="#E3242B" stroke-width="2.1"/>
<rect x="390.6" y="1114.9" width="19.8" height="19.8" fill="none" stroke="#E3242B" stroke-width="2.1"/>
<rect x="390.6" y="1133.3" width="19.8" height="19.8" fill="none" stroke="#E3242B" stroke-width="2.1"/>
<rect x="433.6" y="1043.3" width="19.8" height="19.8" fill="none" stroke="#E3242B" stroke-width="2.1"/>
<rect x="433.6" y="1127" width="19.8" height="19.8" fill="none" stroke="#E3242B" stroke-width="2.1"/>
<rect x="433.6" y="1125" width="19.8" height="19.8" fill="none" stroke="#E3242B" stroke-width="2.1"/>
<rect x="433.6" y="1262.5" width="19.8" height="19.8" fill="none" stroke="#E3242B" stroke-width="2.1"/>
<rect x="455.1" y="1098.4" width="19.8" height="19.8" fill="none" stroke="#E3242B" stroke-width="2.1"/>
<rect x="455.1" y="1128.1" width="19.8" height="19.8" fill="none" stroke="#E3242B" stroke-width="2.1"/>
<rect x="455.1" y="1139" width="19.8" height="19.8" fill="none" stroke="#E3242B" stroke-width="2.1"/>
<rect x="455.1" y="1184.5" width="19.8" height="19.8" fill="none" stroke="#E3242B" stroke-width="2.1"/>
<rect x="487.3" y="1070.1" width="19.8" height="19.8" fill="none" stroke="#E3242B" stroke-width="2.1"/>
<rect x="487.3" y="1079.7" width="19.8" height="19.8" fill="none" stroke="#E3242B" stroke-width="2.1"/>
<rect x="487.3" y="1119.6" width="19.8" height="19.8" fill="none" stroke="#E3242B" stroke-width="2.1"/>
<rect x="487.3" y="1216.6" width="19.8" height="19.8" fill="none" stroke="#E3242B" stroke-width="2.1"/>
<rect x="583.9" y="1020.8" width="19.8" height="19.8" fill="none" stroke="#E3242B" stroke-width="2.1"/>
<rect x="583.9" y="1071.3" width="19.8" height="19.8" fill="none" stroke="#E3242B" stroke-width="2.1"/>
<rect x="583.9" y="1078" width="19.8" height="19.8" fill="none" stroke="#E3242B" stroke-width="2.1"/>
<rect x="583.9" y="1086.4" width="19.8" height="19.8" fill="none" stroke="#E3242B" stroke-width="2.1"/>
<rect x="583.9" y="1093.1" width="19.8" height="19.8" fill="none" stroke="#E3242B" stroke-width="2.1"/>
<rect x="583.9" y="1099.8" width="19.8" height="19.8" fill="none" stroke="#E3242B" stroke-width="2.1"/>
<rect x="583.9" y="1109.9" width="19.8" height="19.8" fill="none" stroke="#E3242B" stroke-width="2.1"/>
<rect x="583.9" y="1116.6" width="19.8" height="19.8" fill="none" stroke="#E3242B" stroke-width="2.1"/>
<rect x="583.9" y="1153.5" width="19.8" height="19.8" fill="none" stroke="#E3242B" stroke-width="2.1"/>
<rect x="583.9" y="1166.9" width="19.8" height="19.8" fill="none" stroke="#E3242B" stroke-width="2.1"/>
<rect x="583.9" y="1182" width="19.8" height="19.8" fill="none" stroke="#E3242B" stroke-width="2.1"/>
<rect x="583.9" y="1216.2" width="19.8" height="19.8" fill="none" stroke="#E3242B" stroke-width="2.1"/>
<rect x="777.2" y="982.4" width="19.8" height="19.8" fill="none" stroke="#E3242B" stroke-width="2.1"/>
<rect x="777.2" y="1007.5" width="19.8" height="19.8" fill="none" stroke="#E3242B" stroke-width="2.1"/>
<rect x="777.2" y="1010.9" width="19.8" height="19.8" fill="none" stroke="#E3242B" stroke-width="2.1"/>
<rect x="777.2" y="1024.3" width="19.8" height="19.8" fill="none" stroke="#E3242B" stroke-width="2.1"/>
<rect x="777.2" y="1027.6" width="19.8" height="19.8" fill="none" stroke="#E3242B" stroke-width="2.1"/>
<path d="M151.3 864.7H177.3M164.3 851.7V877.7" stroke="#EDB232" stroke-width="2.1" fill="none"/>
<path d="M151.3 983.9H177.3M164.3 970.9V996.9" stroke="#EDB232" stroke-width="2.1" fill="none"/>
<path d="M151.3 1034.2H177.3M164.3 1021.2V1047.2" stroke="#EDB232" stroke-width="2.1" fill="none"/>
<path d="M151.3 1067.7H177.3M164.3 1054.7V1080.7" stroke="#EDB232" stroke-width="2.1" fill="none"/>
<path d="M151.3 1078.5H177.3M164.3 1065.5V1091.5" stroke="#EDB232" stroke-width="2.1" fill="none"/>
<path d="M194.2 1082.2H220.2M207.2 1069.2V1095.2" stroke="#EDB232" stroke-width="2.1" fill="none"/>
<path d="M194.2 1103.5H220.2M207.2 1090.5V1116.5" stroke="#EDB232" stroke-width="2.1" fill="none"/>
<path d="M194.2 1123.4H220.2M207.2 1110.4V1136.4" stroke="#EDB232" stroke-width="2.1" fill="none"/>
<path d="M237.2 1037.5H263.2M250.2 1024.5V1050.5" stroke="#EDB232" stroke-width="2.1" fill="none"/>
<path d="M237.2 1068.8H263.2M250.2 1055.8V1081.8" stroke="#EDB232" stroke-width="2.1" fill="none"/>
<path d="M237.2 1067.7H263.2M250.2 1054.7V1080.7" stroke="#EDB232" stroke-width="2.1" fill="none"/>
<path d="M290.9 952.8H316.9M303.9 939.8V965.8" stroke="#EDB232" stroke-width="2.1" fill="none"/>
<path d="M290.9 1047.6H316.9M303.9 1034.6V1060.6" stroke="#EDB232" stroke-width="2.1" fill="none"/>
<path d="M290.9 1057.7H316.9M303.9 1044.7V1070.7" stroke="#EDB232" stroke-width="2.1" fill="none"/>
<path d="M290.9 1088.4H316.9M303.9 1075.4V1101.4" stroke="#EDB232" stroke-width="2.1" fill="none"/>
<path d="M290.9 1127.1H316.9M303.9 1114.1V1140.1" stroke="#EDB232" stroke-width="2.1" fill="none"/>
<path d="M290.9 1138H316.9M303.9 1125V1151" stroke="#EDB232" stroke-width="2.1" fill="none"/>
<path d="M290.9 1193.6H316.9M303.9 1180.6V1206.6" stroke="#EDB232" stroke-width="2.1" fill="none"/>
<path d="M312.4 1119.6H338.4M325.4 1106.6V1132.6" stroke="#EDB232" stroke-width="2.1" fill="none"/>
<path d="M376.8 896.8H402.8M389.8 883.8V909.8" stroke="#EDB232" stroke-width="2.1" fill="none"/>
<path d="M376.8 978.3H402.8M389.8 965.3V991.3" stroke="#EDB232" stroke-width="2.1" fill="none"/>
<path d="M376.8 988.9H402.8M389.8 975.9V1001.9" stroke="#EDB232" stroke-width="2.1" fill="none"/>
<path d="M376.8 1055.2H402.8M389.8 1042.2V1068.2" stroke="#EDB232" stroke-width="2.1" fill="none"/>
<path d="M376.8 1141.1H402.8M389.8 1128.1V1154.1" stroke="#EDB232" stroke-width="2.1" fill="none"/>
<path d="M387.5 1080H413.5M400.5 1067V1093" stroke="#EDB232" stroke-width="2.1" fill="none"/>
<path d="M387.5 1090.2H413.5M400.5 1077.2V1103.2" stroke="#EDB232" stroke-width="2.1" fill="none"/>
<path d="M387.5 1134.4H413.5M400.5 1121.4V1147.4" stroke="#EDB232" stroke-width="2.1" fill="none"/>
<path d="M387.5 1139.9H413.5M400.5 1126.9V1152.9" stroke="#EDB232" stroke-width="2.1" fill="none"/>
<path d="M387.5 1154.3H413.5M400.5 1141.3V1167.3" stroke="#EDB232" stroke-width="2.1" fill="none"/>
<path d="M387.5 1165.1H413.5M400.5 1152.1V1178.1" stroke="#EDB232" stroke-width="2.1" fill="none"/>
<path d="M430.5 1004.3H456.5M443.5 991.3V1017.3" stroke="#EDB232" stroke-width="2.1" fill="none"/>
<path d="M430.5 1171.9H456.5M443.5 1158.9V1184.9" stroke="#EDB232" stroke-width="2.1" fill="none"/>
<path d="M430.5 1187H456.5M443.5 1174V1200" stroke="#EDB232" stroke-width="2.1" fill="none"/>
<path d="M430.5 1213.7H456.5M443.5 1200.7V1226.7" stroke="#EDB232" stroke-width="2.1" fill="none"/>
<path d="M452 948.5H478M465 935.5V961.5" stroke="#EDB232" stroke-width="2.1" fill="none"/>
<path d="M452 1050.3H478M465 1037.3V1063.3" stroke="#EDB232" stroke-width="2.1" fill="none"/>
<path d="M452 1091.4H478M465 1078.4V1104.4" stroke="#EDB232" stroke-width="2.1" fill="none"/>
<path d="M452 1101.8H478M465 1088.8V1114.8" stroke="#EDB232" stroke-width="2.1" fill="none"/>
<path d="M484.2 1140.4H510.2M497.2 1127.4V1153.4" stroke="#EDB232" stroke-width="2.1" fill="none"/>
<path d="M484.2 1145.9H510.2M497.2 1132.9V1158.9" stroke="#EDB232" stroke-width="2.1" fill="none"/>
<path d="M484.2 1185.2H510.2M497.2 1172.2V1198.2" stroke="#EDB232" stroke-width="2.1" fill="none"/>
<path d="M484.2 1227.6H510.2M497.2 1214.6V1240.6" stroke="#EDB232" stroke-width="2.1" fill="none"/>
<path d="M580.8 992.9H606.8M593.8 979.9V1005.9" stroke="#EDB232" stroke-width="2.1" fill="none"/>
<path d="M580.8 1072.1H606.8M593.8 1059.1V1085.1" stroke="#EDB232" stroke-width="2.1" fill="none"/>
<path d="M580.8 1084.5H606.8M593.8 1071.5V1097.5" stroke="#EDB232" stroke-width="2.1" fill="none"/>
<path d="M580.8 1096.3H606.8M593.8 1083.3V1109.3" stroke="#EDB232" stroke-width="2.1" fill="none"/>
<path d="M580.8 1117.6H606.8M593.8 1104.6V1130.6" stroke="#EDB232" stroke-width="2.1" fill="none"/>
<path d="M580.8 1132.2H606.8M593.8 1119.2V1145.2" stroke="#EDB232" stroke-width="2.1" fill="none"/>
<path d="M580.8 1146.6H606.8M593.8 1133.6V1159.6" stroke="#EDB232" stroke-width="2.1" fill="none"/>
<path d="M580.8 1172.8H606.8M593.8 1159.8V1185.8" stroke="#EDB232" stroke-width="2.1" fill="none"/>
<path d="M580.8 1178.5H606.8M593.8 1165.5V1191.5" stroke="#EDB232" stroke-width="2.1" fill="none"/>
<path d="M580.8 1213.4H606.8M593.8 1200.4V1226.4" stroke="#EDB232" stroke-width="2.1" fill="none"/>
<path d="M580.8 1223.3H606.8M593.8 1210.3V1236.3" stroke="#EDB232" stroke-width="2.1" fill="none"/>
<path d="M580.8 1266.4H606.8M593.8 1253.4V1279.4" stroke="#EDB232" stroke-width="2.1" fill="none"/>
<path d="M774.1 978.8H800.1M787.1 965.8V991.8" stroke="#EDB232" stroke-width="2.1" fill="none"/>
<path d="M774.1 1030H800.1M787.1 1017V1043" stroke="#EDB232" stroke-width="2.1" fill="none"/>
<path d="M774.1 1057.7H800.1M787.1 1044.7V1070.7" stroke="#EDB232" stroke-width="2.1" fill="none"/>
<path d="M774.1 1079.3H800.1M787.1 1066.3V1092.3" stroke="#EDB232" stroke-width="2.1" fill="none"/>
<path d="M774.1 1083.7H800.1M787.1 1070.7V1096.7" stroke="#EDB232" stroke-width="2.1" fill="none"/>
<path d="M154.3 950.4L174.3 970.4M154.3 970.4L174.3 950.4" stroke="#5EA83C" stroke-width="2.1" fill="none"/>
<path d="M154.3 967.2L174.3 987.2M154.3 987.2L174.3 967.2" stroke="#5EA83C" stroke-width="2.1" fill="none"/>
<path d="M154.3 997.3L174.3 1017.3M154.3 1017.3L174.3 997.3" stroke="#5EA83C" stroke-width="2.1" fill="none"/>
<path d="M154.3 1057.7L174.3 1077.7M154.3 1077.7L174.3 1057.7" stroke="#5EA83C" stroke-width="2.1" fill="none"/>
<path d="M154.3 1145L174.3 1165M154.3 1165L174.3 1145" stroke="#5EA83C" stroke-width="2.1" fill="none"/>
<path d="M197.2 1023.4L217.2 1043.4M197.2 1043.4L217.2 1023.4" stroke="#5EA83C" stroke-width="2.1" fill="none"/>
<path d="M197.2 1133.2L217.2 1153.2M197.2 1153.2L217.2 1133.2" stroke="#5EA83C" stroke-width="2.1" fill="none"/>
<path d="M197.2 1210.4L217.2 1230.4M197.2 1230.4L217.2 1210.4" stroke="#5EA83C" stroke-width="2.1" fill="none"/>
<path d="M240.2 1099.7L260.2 1119.7M240.2 1119.7L260.2 1099.7" stroke="#5EA83C" stroke-width="2.1" fill="none"/>
<path d="M240.2 1127.4L260.2 1147.4M240.2 1147.4L260.2 1127.4" stroke="#5EA83C" stroke-width="2.1" fill="none"/>
<path d="M240.2 1206.2L260.2 1226.2M240.2 1226.2L260.2 1206.2" stroke="#5EA83C" stroke-width="2.1" fill="none"/>
<path d="M293.9 1005.7L313.9 1025.7M293.9 1025.7L313.9 1005.7" stroke="#5EA83C" stroke-width="2.1" fill="none"/>
<path d="M293.9 1009.1L313.9 1029.1M293.9 1029.1L313.9 1009.1" stroke="#5EA83C" stroke-width="2.1" fill="none"/>
<path d="M293.9 1029.2L313.9 1049.2M293.9 1049.2L313.9 1029.2" stroke="#5EA83C" stroke-width="2.1" fill="none"/>
<path d="M293.9 1059.4L313.9 1079.4M293.9 1079.4L313.9 1059.4" stroke="#5EA83C" stroke-width="2.1" fill="none"/>
<path d="M293.9 1064.5L313.9 1084.5M293.9 1084.5L313.9 1064.5" stroke="#5EA83C" stroke-width="2.1" fill="none"/>
<path d="M293.9 1074.5L313.9 1094.5M293.9 1094.5L313.9 1074.5" stroke="#5EA83C" stroke-width="2.1" fill="none"/>
<path d="M293.9 1093L313.9 1113M293.9 1113L313.9 1093" stroke="#5EA83C" stroke-width="2.1" fill="none"/>
<path d="M315.4 1244L335.4 1264M315.4 1264L335.4 1244" stroke="#5EA83C" stroke-width="2.1" fill="none"/>
<path d="M379.8 1004.6L399.8 1024.6M379.8 1024.6L399.8 1004.6" stroke="#5EA83C" stroke-width="2.1" fill="none"/>
<path d="M379.8 1020.3L399.8 1040.3M379.8 1040.3L399.8 1020.3" stroke="#5EA83C" stroke-width="2.1" fill="none"/>
<path d="M379.8 1064.5L399.8 1084.5M379.8 1084.5L399.8 1064.5" stroke="#5EA83C" stroke-width="2.1" fill="none"/>
<path d="M379.8 1135.9L399.8 1155.9M379.8 1155.9L399.8 1135.9" stroke="#5EA83C" stroke-width="2.1" fill="none"/>
<path d="M379.8 1354.7L399.8 1374.7M379.8 1374.7L399.8 1354.7" stroke="#5EA83C" stroke-width="2.1" fill="none"/>
<path d="M390.5 1071.2L410.5 1091.2M390.5 1091.2L410.5 1071.2" stroke="#5EA83C" stroke-width="2.1" fill="none"/>
<path d="M390.5 1093L410.5 1113M390.5 1113L410.5 1093" stroke="#5EA83C" stroke-width="2.1" fill="none"/>
<path d="M390.5 1119.8L410.5 1139.8M390.5 1139.8L410.5 1119.8" stroke="#5EA83C" stroke-width="2.1" fill="none"/>
<path d="M390.5 1126.9L410.5 1146.9M390.5 1146.9L410.5 1126.9" stroke="#5EA83C" stroke-width="2.1" fill="none"/>
<path d="M390.5 1086.3L410.5 1106.3M390.5 1106.3L410.5 1086.3" stroke="#5EA83C" stroke-width="2.1" fill="none"/>
<path d="M390.5 1099.7L410.5 1119.7M390.5 1119.7L410.5 1099.7" stroke="#5EA83C" stroke-width="2.1" fill="none"/>
<path d="M433.5 1070L453.5 1090M433.5 1090L453.5 1070" stroke="#5EA83C" stroke-width="2.1" fill="none"/>
<path d="M433.5 1080.9L453.5 1100.9M433.5 1100.9L453.5 1080.9" stroke="#5EA83C" stroke-width="2.1" fill="none"/>
<path d="M433.5 1113.1L453.5 1133.1M433.5 1133.1L453.5 1113.1" stroke="#5EA83C" stroke-width="2.1" fill="none"/>
<path d="M433.5 1234.9L453.5 1254.9M433.5 1254.9L453.5 1234.9" stroke="#5EA83C" stroke-width="2.1" fill="none"/>
<path d="M455 1102.7L475 1122.7M455 1122.7L475 1102.7" stroke="#5EA83C" stroke-width="2.1" fill="none"/>
<path d="M455 1113.6L475 1133.6M455 1133.6L475 1113.6" stroke="#5EA83C" stroke-width="2.1" fill="none"/>
<path d="M455 1138.9L475 1158.9M455 1158.9L475 1138.9" stroke="#5EA83C" stroke-width="2.1" fill="none"/>
<path d="M455 1174.7L475 1194.7M455 1194.7L475 1174.7" stroke="#5EA83C" stroke-width="2.1" fill="none"/>
<path d="M487.2 1066.3L507.2 1086.3M487.2 1086.3L507.2 1066.3" stroke="#5EA83C" stroke-width="2.1" fill="none"/>
<path d="M487.2 1098.3L507.2 1118.3M487.2 1118.3L507.2 1098.3" stroke="#5EA83C" stroke-width="2.1" fill="none"/>
<path d="M487.2 1118.3L507.2 1138.3M487.2 1138.3L507.2 1118.3" stroke="#5EA83C" stroke-width="2.1" fill="none"/>
<path d="M487.2 1142.6L507.2 1162.6M487.2 1162.6L507.2 1142.6" stroke="#5EA83C" stroke-width="2.1" fill="none"/>
<path d="M583.8 1048.7L603.8 1068.7M583.8 1068.7L603.8 1048.7" stroke="#5EA83C" stroke-width="2.1" fill="none"/>
<path d="M583.8 1081.7L603.8 1101.7M583.8 1101.7L603.8 1081.7" stroke="#5EA83C" stroke-width="2.1" fill="none"/>
<path d="M583.8 1091L603.8 1111M583.8 1111L603.8 1091" stroke="#5EA83C" stroke-width="2.1" fill="none"/>
<path d="M583.8 1092.6L603.8 1112.6M583.8 1112.6L603.8 1092.6" stroke="#5EA83C" stroke-width="2.1" fill="none"/>
<path d="M583.8 1114.8L603.8 1134.8M583.8 1134.8L603.8 1114.8" stroke="#5EA83C" stroke-width="2.1" fill="none"/>
<path d="M583.8 1121.5L603.8 1141.5M583.8 1141.5L603.8 1121.5" stroke="#5EA83C" stroke-width="2.1" fill="none"/>
<path d="M583.8 1130.9L603.8 1150.9M583.8 1150.9L603.8 1130.9" stroke="#5EA83C" stroke-width="2.1" fill="none"/>
<path d="M583.8 1161.3L603.8 1181.3M583.8 1181.3L603.8 1161.3" stroke="#5EA83C" stroke-width="2.1" fill="none"/>
<path d="M583.8 1165.1L603.8 1185.1M583.8 1185.1L603.8 1165.1" stroke="#5EA83C" stroke-width="2.1" fill="none"/>
<path d="M583.8 1185.3L603.8 1205.3M583.8 1205.3L603.8 1185.3" stroke="#5EA83C" stroke-width="2.1" fill="none"/>
<path d="M583.8 1189.6L603.8 1209.6M583.8 1209.6L603.8 1189.6" stroke="#5EA83C" stroke-width="2.1" fill="none"/>
<path d="M583.8 1193.6L603.8 1213.6M583.8 1213.6L603.8 1193.6" stroke="#5EA83C" stroke-width="2.1" fill="none"/>
<path d="M777.1 1022.5L797.1 1042.5M777.1 1042.5L797.1 1022.5" stroke="#5EA83C" stroke-width="2.1" fill="none"/>
<path d="M777.1 1027.5L797.1 1047.5M777.1 1047.5L797.1 1027.5" stroke="#5EA83C" stroke-width="2.1" fill="none"/>
<path d="M777.1 1030.9L797.1 1050.9M777.1 1050.9L797.1 1030.9" stroke="#5EA83C" stroke-width="2.1" fill="none"/>
<path d="M777.1 1034.3L797.1 1054.3M777.1 1054.3L797.1 1034.3" stroke="#5EA83C" stroke-width="2.1" fill="none"/>
<path d="M777.1 1039.3L797.1 1059.3M777.1 1059.3L797.1 1039.3" stroke="#5EA83C" stroke-width="2.1" fill="none"/>
<line x1="110.6" y1="853" x2="110.6" y2="1440.2" stroke="#6a6a6a" stroke-width="1.3"/>
<line x1="110" y1="1440.2" x2="809.2" y2="1440.2" stroke="#6a6a6a" stroke-width="1.6"/>
<line x1="164.3" y1="1440.2" x2="164.3" y2="1433.7" stroke="#6a6a6a" stroke-width="1.3"/>
<text x="146.96" y="1471.80" class="tk" textLength="34.67" lengthAdjust="spacingAndGlyphs">-40</text>
<line x1="271.7" y1="1440.2" x2="271.7" y2="1433.7" stroke="#6a6a6a" stroke-width="1.3"/>
<text x="254.34" y="1471.80" class="tk" textLength="34.67" lengthAdjust="spacingAndGlyphs">-30</text>
<line x1="379.1" y1="1440.2" x2="379.1" y2="1433.7" stroke="#6a6a6a" stroke-width="1.3"/>
<text x="361.73" y="1471.80" class="tk" textLength="34.67" lengthAdjust="spacingAndGlyphs">-20</text>
<line x1="486.4" y1="1440.2" x2="486.4" y2="1433.7" stroke="#6a6a6a" stroke-width="1.3"/>
<text x="469.11" y="1471.80" class="tk" textLength="34.67" lengthAdjust="spacingAndGlyphs">-10</text>
<line x1="593.8" y1="1440.2" x2="593.8" y2="1433.7" stroke="#6a6a6a" stroke-width="1.3"/>
<text x="587.16" y="1471.80" class="tk" textLength="13.34" lengthAdjust="spacingAndGlyphs">0</text>
<line x1="701.2" y1="1440.2" x2="701.2" y2="1433.7" stroke="#6a6a6a" stroke-width="1.3"/>
<text x="687.88" y="1471.80" class="tk" textLength="26.68" lengthAdjust="spacingAndGlyphs">10</text>
<line x1="808.6" y1="1440.2" x2="808.6" y2="1433.7" stroke="#6a6a6a" stroke-width="1.3"/>
<text x="795.26" y="1471.80" class="tk" textLength="26.68" lengthAdjust="spacingAndGlyphs">20</text>
<line x1="110.6" y1="1440.2" x2="117.1" y2="1440.2" stroke="#6a6a6a" stroke-width="1.3"/>
<text x="67.73" y="1450.40" class="tk" textLength="34.67" lengthAdjust="spacingAndGlyphs">-20</text>
<line x1="110.6" y1="1356.3" x2="117.1" y2="1356.3" stroke="#6a6a6a" stroke-width="1.3"/>
<text x="67.73" y="1366.51" class="tk" textLength="34.67" lengthAdjust="spacingAndGlyphs">-15</text>
<line x1="110.6" y1="1272.4" x2="117.1" y2="1272.4" stroke="#6a6a6a" stroke-width="1.3"/>
<text x="67.73" y="1282.63" class="tk" textLength="34.67" lengthAdjust="spacingAndGlyphs">-10</text>
<line x1="110.6" y1="1188.5" x2="117.1" y2="1188.5" stroke="#6a6a6a" stroke-width="1.3"/>
<text x="81.07" y="1198.74" class="tk" textLength="21.33" lengthAdjust="spacingAndGlyphs">-5</text>
<line x1="110.6" y1="1104.7" x2="117.1" y2="1104.7" stroke="#6a6a6a" stroke-width="1.3"/>
<text x="89.06" y="1114.86" class="tk" textLength="13.34" lengthAdjust="spacingAndGlyphs">0</text>
<line x1="110.6" y1="1020.8" x2="117.1" y2="1020.8" stroke="#6a6a6a" stroke-width="1.3"/>
<text x="89.06" y="1030.97" class="tk" textLength="13.34" lengthAdjust="spacingAndGlyphs">5</text>
<line x1="110.6" y1="936.9" x2="117.1" y2="936.9" stroke="#6a6a6a" stroke-width="1.3"/>
<text x="75.72" y="947.09" class="tk" textLength="26.68" lengthAdjust="spacingAndGlyphs">10</text>
<line x1="110.6" y1="853" x2="117.1" y2="853" stroke="#6a6a6a" stroke-width="1.3"/>
<text x="75.72" y="863.20" class="tk" textLength="26.68" lengthAdjust="spacingAndGlyphs">15</text>
<text x="186.60" y="1505.80" class="lb" textLength="545.81" lengthAdjust="spacingAndGlyphs">Displacement Measured by Total Station (mm)</text>
<text transform="translate(57.10,1266.70) rotate(-90)" x="-2.20" y="0" class="lb" textLength="244.00" lengthAdjust="spacingAndGlyphs">Error by Model (mm)</text>
<rect x="665.6" y="1309.2" width="20" height="20" fill="none" stroke="#F5141C" stroke-width="3.4"/>
<path d="M664.2 1352.9H687M675.6 1341.5V1364.3" stroke="#FFBF00" stroke-width="5.3" fill="none"/>
<path d="M666.9 1373.8L684.4 1391.3M666.9 1391.3L684.4 1373.8" stroke="#00A146" stroke-width="5" fill="none"/>
<text x="692.16" y="1329.40" class="lg" textLength="83.56" lengthAdjust="spacingAndGlyphs">Model 1</text>
<text x="692.10" y="1358.90" class="lg" textLength="86.32" lengthAdjust="spacingAndGlyphs">Model 2</text>
<text x="692.10" y="1389.40" class="lg" textLength="86.13" lengthAdjust="spacingAndGlyphs">Model 3</text>
<text x="426.84" y="1557.00" class="pl" textLength="34.12" lengthAdjust="spacingAndGlyphs">(c)</text>
<rect x="1018.4" y="1010.8" width="19.8" height="19.8" fill="none" stroke="#E3242B" stroke-width="2.1"/>
<rect x="1017.3" y="1031.1" width="19.8" height="19.8" fill="none" stroke="#E3242B" stroke-width="2.1"/>
<rect x="1010.3" y="1113.5" width="19.8" height="19.8" fill="none" stroke="#E3242B" stroke-width="2.1"/>
<rect x="1023.2" y="1137" width="19.8" height="19.8" fill="none" stroke="#E3242B" stroke-width="2.1"/>
<rect x="1091.1" y="999.2" width="19.8" height="19.8" fill="none" stroke="#E3242B" stroke-width="2.1"/>
<rect x="1107.5" y="1099" width="19.8" height="19.8" fill="none" stroke="#E3242B" stroke-width="2.1"/>
<rect x="1107.5" y="1129" width="19.8" height="19.8" fill="none" stroke="#E3242B" stroke-width="2.1"/>
<rect x="1142.2" y="983.8" width="19.8" height="19.8" fill="none" stroke="#E3242B" stroke-width="2.1"/>
<rect x="1154.8" y="1009" width="19.8" height="19.8" fill="none" stroke="#E3242B" stroke-width="2.1"/>
<rect x="1135.8" y="1076.2" width="19.8" height="19.8" fill="none" stroke="#E3242B" stroke-width="2.1"/>
<rect x="1149.7" y="1078.4" width="19.8" height="19.8" fill="none" stroke="#E3242B" stroke-width="2.1"/>
<rect x="1149.7" y="1096.2" width="19.8" height="19.8" fill="none" stroke="#E3242B" stroke-width="2.1"/>
<rect x="1141.6" y="1125.6" width="19.8" height="19.8" fill="none" stroke="#E3242B" stroke-width="2.1"/>
<rect x="1149.7" y="1215.3" width="19.8" height="19.8" fill="none" stroke="#E3242B" stroke-width="2.1"/>
<rect x="1177.1" y="1046.8" width="19.8" height="19.8" fill="none" stroke="#E3242B" stroke-width="2.1"/>
<rect x="1170.4" y="1054.7" width="19.8" height="19.8" fill="none" stroke="#E3242B" stroke-width="2.1"/>
<rect x="1177.1" y="1134.2" width="19.8" height="19.8" fill="none" stroke="#E3242B" stroke-width="2.1"/>
<rect x="1177.1" y="1153.2" width="19.8" height="19.8" fill="none" stroke="#E3242B" stroke-width="2.1"/>
<rect x="1177.1" y="1205.9" width="19.8" height="19.8" fill="none" stroke="#E3242B" stroke-width="2.1"/>
<rect x="1237.1" y="1000.9" width="19.8" height="19.8" fill="none" stroke="#E3242B" stroke-width="2.1"/>
<rect x="1235.8" y="1080" width="19.8" height="19.8" fill="none" stroke="#E3242B" stroke-width="2.1"/>
<rect x="1249.2" y="1129" width="19.8" height="19.8" fill="none" stroke="#E3242B" stroke-width="2.1"/>
<rect x="1276.8" y="984.3" width="19.8" height="19.8" fill="none" stroke="#E3242B" stroke-width="2.1"/>
<rect x="1268.7" y="1080.7" width="19.8" height="19.8" fill="none" stroke="#E3242B" stroke-width="2.1"/>
<rect x="1265.9" y="1096.9" width="19.8" height="19.8" fill="none" stroke="#E3242B" stroke-width="2.1"/>
<rect x="1268.7" y="1166.9" width="19.8" height="19.8" fill="none" stroke="#E3242B" stroke-width="2.1"/>
<rect x="1314.2" y="988.3" width="19.8" height="19.8" fill="none" stroke="#E3242B" stroke-width="2.1"/>
<rect x="1302.5" y="1007.8" width="19.8" height="19.8" fill="none" stroke="#E3242B" stroke-width="2.1"/>
<rect x="1289.9" y="1120.9" width="19.8" height="19.8" fill="none" stroke="#E3242B" stroke-width="2.1"/>
<rect x="1306.7" y="1141.1" width="19.8" height="19.8" fill="none" stroke="#E3242B" stroke-width="2.1"/>
<rect x="1286.6" y="1146.3" width="19.8" height="19.8" fill="none" stroke="#E3242B" stroke-width="2.1"/>
<rect x="1299.7" y="1157.7" width="19.8" height="19.8" fill="none" stroke="#E3242B" stroke-width="2.1"/>
<rect x="1303.3" y="1352.5" width="19.8" height="19.8" fill="none" stroke="#E3242B" stroke-width="2.1"/>
<rect x="1367.9" y="1034.5" width="19.8" height="19.8" fill="none" stroke="#E3242B" stroke-width="2.1"/>
<rect x="1369.8" y="1080.2" width="19.8" height="19.8" fill="none" stroke="#E3242B" stroke-width="2.1"/>
<rect x="1383.2" y="1217.4" width="19.8" height="19.8" fill="none" stroke="#E3242B" stroke-width="2.1"/>
<rect x="1378.5" y="1264.7" width="19.8" height="19.8" fill="none" stroke="#E3242B" stroke-width="2.1"/>
<rect x="1409.5" y="1021.9" width="19.8" height="19.8" fill="none" stroke="#E3242B" stroke-width="2.1"/>
<rect x="1429.3" y="994" width="19.8" height="19.8" fill="none" stroke="#E3242B" stroke-width="2.1"/>
<rect x="1424.9" y="1076.7" width="19.8" height="19.8" fill="none" stroke="#E3242B" stroke-width="2.1"/>
<rect x="1436.6" y="1096.9" width="19.8" height="19.8" fill="none" stroke="#E3242B" stroke-width="2.1"/>
<rect x="1420.1" y="1137.4" width="19.8" height="19.8" fill="none" stroke="#E3242B" stroke-width="2.1"/>
<rect x="1403.3" y="1154.7" width="19.8" height="19.8" fill="none" stroke="#E3242B" stroke-width="2.1"/>
<rect x="1439.4" y="1268.6" width="19.8" height="19.8" fill="none" stroke="#E3242B" stroke-width="2.1"/>
<rect x="1439.4" y="1269.8" width="19.8" height="19.8" fill="none" stroke="#E3242B" stroke-width="2.1"/>
<rect x="1513.4" y="1044.9" width="19.8" height="19.8" fill="none" stroke="#E3242B" stroke-width="2.1"/>
<rect x="1499.4" y="1093.5" width="19.8" height="19.8" fill="none" stroke="#E3242B" stroke-width="2.1"/>
<rect x="1532.1" y="1094.2" width="19.8" height="19.8" fill="none" stroke="#E3242B" stroke-width="2.1"/>
<rect x="1509.2" y="1110.8" width="19.8" height="19.8" fill="none" stroke="#E3242B" stroke-width="2.1"/>
<rect x="1492.7" y="1259.7" width="19.8" height="19.8" fill="none" stroke="#E3242B" stroke-width="2.1"/>
<rect x="1551.4" y="1078.9" width="19.8" height="19.8" fill="none" stroke="#E3242B" stroke-width="2.1"/>
<rect x="1547.5" y="1076" width="19.8" height="19.8" fill="none" stroke="#E3242B" stroke-width="2.1"/>
<rect x="1573.2" y="1101.7" width="19.8" height="19.8" fill="none" stroke="#E3242B" stroke-width="2.1"/>
<rect x="1561.2" y="1119.2" width="19.8" height="19.8" fill="none" stroke="#E3242B" stroke-width="2.1"/>
<rect x="1541" y="1181.9" width="19.8" height="19.8" fill="none" stroke="#E3242B" stroke-width="2.1"/>
<rect x="1559.2" y="1186.1" width="19.8" height="19.8" fill="none" stroke="#E3242B" stroke-width="2.1"/>
<rect x="1558.9" y="1238" width="19.8" height="19.8" fill="none" stroke="#E3242B" stroke-width="2.1"/>
<rect x="1564" y="1396.5" width="19.8" height="19.8" fill="none" stroke="#E3242B" stroke-width="2.1"/>
<path d="M1014.8 1082.6H1040.8M1027.8 1069.6V1095.6" stroke="#EDB232" stroke-width="2.1" fill="none"/>
<path d="M1020.1 1082.6H1046.1M1033.1 1069.6V1095.6" stroke="#EDB232" stroke-width="2.1" fill="none"/>
<path d="M1006.1 1119.4H1032.1M1019.1 1106.4V1132.4" stroke="#EDB232" stroke-width="2.1" fill="none"/>
<path d="M1087.4 866.4H1113.4M1100.4 853.4V879.4" stroke="#EDB232" stroke-width="2.1" fill="none"/>
<path d="M1104.4 955H1130.4M1117.4 942V968" stroke="#EDB232" stroke-width="2.1" fill="none"/>
<path d="M1104.4 1006.3H1130.4M1117.4 993.3V1019.3" stroke="#EDB232" stroke-width="2.1" fill="none"/>
<path d="M1174 990.8H1200M1187 977.8V1003.8" stroke="#EDB232" stroke-width="2.1" fill="none"/>
<path d="M1139.4 1032.1H1165.4M1152.4 1019.1V1045.1" stroke="#EDB232" stroke-width="2.1" fill="none"/>
<path d="M1151.1 1063.1H1177.1M1164.1 1050.1V1076.1" stroke="#EDB232" stroke-width="2.1" fill="none"/>
<path d="M1146.6 1095.2H1172.6M1159.6 1082.2V1108.2" stroke="#EDB232" stroke-width="2.1" fill="none"/>
<path d="M1174 1094.1H1200M1187 1081.1V1107.1" stroke="#EDB232" stroke-width="2.1" fill="none"/>
<path d="M1139.6 1142.4H1165.6M1152.6 1129.4V1155.4" stroke="#EDB232" stroke-width="2.1" fill="none"/>
<path d="M1234 1035.7H1260M1247 1022.7V1048.7" stroke="#EDB232" stroke-width="2.1" fill="none"/>
<path d="M1232.7 1139.5H1258.7M1245.7 1126.5V1152.5" stroke="#EDB232" stroke-width="2.1" fill="none"/>
<path d="M1246.1 1173.5H1272.1M1259.1 1160.5V1186.5" stroke="#EDB232" stroke-width="2.1" fill="none"/>
<path d="M1273.7 982.1H1299.7M1286.7 969.1V995.1" stroke="#EDB232" stroke-width="2.1" fill="none"/>
<path d="M1296.6 1056.7H1322.6M1309.6 1043.7V1069.7" stroke="#EDB232" stroke-width="2.1" fill="none"/>
<path d="M1299.4 1070.5H1325.4M1312.4 1057.5V1083.5" stroke="#EDB232" stroke-width="2.1" fill="none"/>
<path d="M1302.5 1103.2H1328.5M1315.5 1090.2V1116.2" stroke="#EDB232" stroke-width="2.1" fill="none"/>
<path d="M1310.3 1125.1H1336.3M1323.3 1112.1V1138.1" stroke="#EDB232" stroke-width="2.1" fill="none"/>
<path d="M1266.2 1148.6H1292.2M1279.2 1135.6V1161.6" stroke="#EDB232" stroke-width="2.1" fill="none"/>
<path d="M1283.5 1156.2H1309.5M1296.5 1143.2V1169.2" stroke="#EDB232" stroke-width="2.1" fill="none"/>
<path d="M1262.8 1180.9H1288.8M1275.8 1167.9V1193.9" stroke="#EDB232" stroke-width="2.1" fill="none"/>
<path d="M1262.8 1214.8H1288.8M1275.8 1201.8V1227.8" stroke="#EDB232" stroke-width="2.1" fill="none"/>
<path d="M1287.4 1229.3H1313.4M1300.4 1216.3V1242.3" stroke="#EDB232" stroke-width="2.1" fill="none"/>
<path d="M1433.5 979.9H1459.5M1446.5 966.9V992.9" stroke="#EDB232" stroke-width="2.1" fill="none"/>
<path d="M1433.5 1052H1459.5M1446.5 1039V1065" stroke="#EDB232" stroke-width="2.1" fill="none"/>
<path d="M1433.5 1087.3H1459.5M1446.5 1074.3V1100.3" stroke="#EDB232" stroke-width="2.1" fill="none"/>
<path d="M1362.8 1078.9H1388.8M1375.8 1065.9V1091.9" stroke="#EDB232" stroke-width="2.1" fill="none"/>
<path d="M1400.8 1107.6H1426.8M1413.8 1094.6V1120.6" stroke="#EDB232" stroke-width="2.1" fill="none"/>
<path d="M1437.1 1121.4H1463.1M1450.1 1108.4V1134.4" stroke="#EDB232" stroke-width="2.1" fill="none"/>
<path d="M1405.8 1167.4H1431.8M1418.8 1154.4V1180.4" stroke="#EDB232" stroke-width="2.1" fill="none"/>
<path d="M1417 1167.4H1443M1430 1154.4V1180.4" stroke="#EDB232" stroke-width="2.1" fill="none"/>
<path d="M1422.6 1186.9H1448.6M1435.6 1173.9V1199.9" stroke="#EDB232" stroke-width="2.1" fill="none"/>
<path d="M1366.7 1194.5H1392.7M1379.7 1181.5V1207.5" stroke="#EDB232" stroke-width="2.1" fill="none"/>
<path d="M1375.1 1214.8H1401.1M1388.1 1201.8V1227.8" stroke="#EDB232" stroke-width="2.1" fill="none"/>
<path d="M1380.4 1268.3H1406.4M1393.4 1255.3V1281.3" stroke="#EDB232" stroke-width="2.1" fill="none"/>
<path d="M1490.2 986.1H1516.2M1503.2 973.1V999.1" stroke="#EDB232" stroke-width="2.1" fill="none"/>
<path d="M1537.9 994.2H1563.9M1550.9 981.2V1007.2" stroke="#EDB232" stroke-width="2.1" fill="none"/>
<path d="M1555.5 899.4H1581.5M1568.5 886.4V912.4" stroke="#EDB232" stroke-width="2.1" fill="none"/>
<path d="M1556.1 950.1H1582.1M1569.1 937.1V963.1" stroke="#EDB232" stroke-width="2.1" fill="none"/>
<path d="M1549.1 1049.3H1575.1M1562.1 1036.3V1062.3" stroke="#EDB232" stroke-width="2.1" fill="none"/>
<path d="M1570.1 1039.5H1596.1M1583.1 1026.5V1052.5" stroke="#EDB232" stroke-width="2.1" fill="none"/>
<path d="M1496.3 1069.3H1522.3M1509.3 1056.3V1082.3" stroke="#EDB232" stroke-width="2.1" fill="none"/>
<path d="M1530.4 1134H1556.4M1543.4 1121V1147" stroke="#EDB232" stroke-width="2.1" fill="none"/>
<path d="M1559.7 1137.5H1585.7M1572.7 1124.5V1150.5" stroke="#EDB232" stroke-width="2.1" fill="none"/>
<path d="M1544.4 1147.9H1570.4M1557.4 1134.9V1160.9" stroke="#EDB232" stroke-width="2.1" fill="none"/>
<path d="M1510.3 1188.3H1536.3M1523.3 1175.3V1201.3" stroke="#EDB232" stroke-width="2.1" fill="none"/>
<path d="M1506.7 1225.2H1532.7M1519.7 1212.2V1238.2" stroke="#EDB232" stroke-width="2.1" fill="none"/>
<path d="M1017.2 1029.4L1037.2 1049.4M1017.2 1049.4L1037.2 1029.4" stroke="#5EA83C" stroke-width="2.1" fill="none"/>
<path d="M1023.1 1088.2L1043.1 1108.2M1023.1 1108.2L1043.1 1088.2" stroke="#5EA83C" stroke-width="2.1" fill="none"/>
<path d="M1004.7 1132.4L1024.7 1152.4M1004.7 1152.4L1024.7 1132.4" stroke="#5EA83C" stroke-width="2.1" fill="none"/>
<path d="M1090.4 953.1L1110.4 973.1M1090.4 973.1L1110.4 953.1" stroke="#5EA83C" stroke-width="2.1" fill="none"/>
<path d="M1107.4 1062.8L1127.4 1082.8M1107.4 1082.8L1127.4 1062.8" stroke="#5EA83C" stroke-width="2.1" fill="none"/>
<path d="M1107.4 1083L1127.4 1103M1107.4 1103L1127.4 1083" stroke="#5EA83C" stroke-width="2.1" fill="none"/>
<path d="M1142.4 1024.5L1162.4 1044.5M1142.4 1044.5L1162.4 1024.5" stroke="#5EA83C" stroke-width="2.1" fill="none"/>
<path d="M1177 1021L1197 1041M1177 1041L1197 1021" stroke="#5EA83C" stroke-width="2.1" fill="none"/>
<path d="M1163.3 1031.4L1183.3 1051.4M1163.3 1051.4L1183.3 1031.4" stroke="#5EA83C" stroke-width="2.1" fill="none"/>
<path d="M1148.5 1074.9L1168.5 1094.9M1148.5 1094.9L1168.5 1074.9" stroke="#5EA83C" stroke-width="2.1" fill="none"/>
<path d="M1141.5 1085.2L1161.5 1105.2M1141.5 1105.2L1161.5 1085.2" stroke="#5EA83C" stroke-width="2.1" fill="none"/>
<path d="M1141.5 1101.3L1161.5 1121.3M1141.5 1121.3L1161.5 1101.3" stroke="#5EA83C" stroke-width="2.1" fill="none"/>
<path d="M1149.6 1145L1169.6 1165M1149.6 1165L1169.6 1145" stroke="#5EA83C" stroke-width="2.1" fill="none"/>
<path d="M1177 1103.6L1197 1123.6M1177 1123.6L1197 1103.6" stroke="#5EA83C" stroke-width="2.1" fill="none"/>
<path d="M1177 1110.5L1197 1130.5M1177 1130.5L1197 1110.5" stroke="#5EA83C" stroke-width="2.1" fill="none"/>
<path d="M1177 1134.7L1197 1154.7M1177 1154.7L1197 1134.7" stroke="#5EA83C" stroke-width="2.1" fill="none"/>
<path d="M1237 968L1257 988M1237 988L1257 968" stroke="#5EA83C" stroke-width="2.1" fill="none"/>
<path d="M1235.7 1055.9L1255.7 1075.9M1235.7 1075.9L1255.7 1055.9" stroke="#5EA83C" stroke-width="2.1" fill="none"/>
<path d="M1249.1 1117.4L1269.1 1137.4M1249.1 1137.4L1269.1 1117.4" stroke="#5EA83C" stroke-width="2.1" fill="none"/>
<path d="M1276.2 1032.7L1296.2 1052.7M1276.2 1052.7L1296.2 1032.7" stroke="#5EA83C" stroke-width="2.1" fill="none"/>
<path d="M1276.7 1036.9L1296.7 1056.9M1276.7 1056.9L1296.7 1036.9" stroke="#5EA83C" stroke-width="2.1" fill="none"/>
<path d="M1268.6 1088.7L1288.6 1108.7M1268.6 1108.7L1288.6 1088.7" stroke="#5EA83C" stroke-width="2.1" fill="none"/>
<path d="M1267.5 1118.6L1287.5 1138.6M1267.5 1138.6L1287.5 1118.6" stroke="#5EA83C" stroke-width="2.1" fill="none"/>
<path d="M1268.6 1162.3L1288.6 1182.3M1268.6 1182.3L1288.6 1162.3" stroke="#5EA83C" stroke-width="2.1" fill="none"/>
<path d="M1300.7 1008.4L1320.7 1028.4M1300.7 1028.4L1320.7 1008.4" stroke="#5EA83C" stroke-width="2.1" fill="none"/>
<path d="M1313.6 1026.7L1333.6 1046.7M1313.6 1046.7L1333.6 1026.7" stroke="#5EA83C" stroke-width="2.1" fill="none"/>
<path d="M1288.7 1120.8L1308.7 1140.8M1288.7 1140.8L1308.7 1120.8" stroke="#5EA83C" stroke-width="2.1" fill="none"/>
<path d="M1288.7 1121.8L1308.7 1141.8M1288.7 1141.8L1308.7 1121.8" stroke="#5EA83C" stroke-width="2.1" fill="none"/>
<path d="M1306.6 1141L1326.6 1161M1306.6 1161L1326.6 1141" stroke="#5EA83C" stroke-width="2.1" fill="none"/>
<path d="M1302.4 1209.2L1322.4 1229.2M1302.4 1229.2L1322.4 1209.2" stroke="#5EA83C" stroke-width="2.1" fill="none"/>
<path d="M1363.6 996.1L1383.6 1016.1M1363.6 1016.1L1383.6 996.1" stroke="#5EA83C" stroke-width="2.1" fill="none"/>
<path d="M1366.4 1094.4L1386.4 1114.4M1366.4 1114.4L1386.4 1094.4" stroke="#5EA83C" stroke-width="2.1" fill="none"/>
<path d="M1383.1 1194.2L1403.1 1214.2M1383.1 1214.2L1403.1 1194.2" stroke="#5EA83C" stroke-width="2.1" fill="none"/>
<path d="M1377.5 1236.7L1397.5 1256.7M1377.5 1256.7L1397.5 1236.7" stroke="#5EA83C" stroke-width="2.1" fill="none"/>
<path d="M1409.4 1050.2L1429.4 1070.2M1409.4 1070.2L1429.4 1050.2" stroke="#5EA83C" stroke-width="2.1" fill="none"/>
<path d="M1435.1 1064.8L1455.1 1084.8M1435.1 1084.8L1455.1 1064.8" stroke="#5EA83C" stroke-width="2.1" fill="none"/>
<path d="M1429.2 1006.5L1449.2 1026.5M1429.2 1026.5L1449.2 1006.5" stroke="#5EA83C" stroke-width="2.1" fill="none"/>
<path d="M1425.6 1074.6L1445.6 1094.6M1425.6 1094.6L1445.6 1074.6" stroke="#5EA83C" stroke-width="2.1" fill="none"/>
<path d="M1436.5 1116.4L1456.5 1136.4M1436.5 1136.4L1456.5 1116.4" stroke="#5EA83C" stroke-width="2.1" fill="none"/>
<path d="M1420 1130.2L1440 1150.2M1420 1150.2L1440 1130.2" stroke="#5EA83C" stroke-width="2.1" fill="none"/>
<path d="M1403.8 1188L1423.8 1208M1403.8 1208L1423.8 1188" stroke="#5EA83C" stroke-width="2.1" fill="none"/>
<path d="M1437.9 1213.4L1457.9 1233.4M1437.9 1233.4L1457.9 1213.4" stroke="#5EA83C" stroke-width="2.1" fill="none"/>
<path d="M1440.1 1245.3L1460.1 1265.3M1440.1 1265.3L1460.1 1245.3" stroke="#5EA83C" stroke-width="2.1" fill="none"/>
<path d="M1499.3 1059.3L1519.3 1079.3M1499.3 1079.3L1519.3 1059.3" stroke="#5EA83C" stroke-width="2.1" fill="none"/>
<path d="M1513.3 1069.7L1533.3 1089.7M1513.3 1089.7L1533.3 1069.7" stroke="#5EA83C" stroke-width="2.1" fill="none"/>
<path d="M1552.1 1065.5L1572.1 1085.5M1552.1 1085.5L1572.1 1065.5" stroke="#5EA83C" stroke-width="2.1" fill="none"/>
<path d="M1532 1092.7L1552 1112.7M1532 1112.7L1552 1092.7" stroke="#5EA83C" stroke-width="2.1" fill="none"/>
<path d="M1547.9 1096.8L1567.9 1116.8M1547.9 1116.8L1567.9 1096.8" stroke="#5EA83C" stroke-width="2.1" fill="none"/>
<path d="M1560.5 1087.2L1580.5 1107.2M1560.5 1107.2L1580.5 1087.2" stroke="#5EA83C" stroke-width="2.1" fill="none"/>
<path d="M1573.1 1129.5L1593.1 1149.5M1573.1 1149.5L1593.1 1129.5" stroke="#5EA83C" stroke-width="2.1" fill="none"/>
<path d="M1557.7 1139.9L1577.7 1159.9M1557.7 1159.9L1577.7 1139.9" stroke="#5EA83C" stroke-width="2.1" fill="none"/>
<path d="M1492.9 1146.8L1512.9 1166.8M1492.9 1166.8L1512.9 1146.8" stroke="#5EA83C" stroke-width="2.1" fill="none"/>
<path d="M1509.7 1163.6L1529.7 1183.6M1509.7 1183.6L1529.7 1163.6" stroke="#5EA83C" stroke-width="2.1" fill="none"/>
<path d="M1540.9 1186L1560.9 1206M1540.9 1206L1560.9 1186" stroke="#5EA83C" stroke-width="2.1" fill="none"/>
<path d="M1559.1 1176.2L1579.1 1196.2M1559.1 1196.2L1579.1 1176.2" stroke="#5EA83C" stroke-width="2.1" fill="none"/>
<path d="M1563.9 1356.2L1583.9 1376.2M1563.9 1376.2L1583.9 1356.2" stroke="#5EA83C" stroke-width="2.1" fill="none"/>
<line x1="1012.7" y1="854.5" x2="1012.7" y2="1442.7" stroke="#6a6a6a" stroke-width="1.3"/>
<line x1="1012.1" y1="1442.7" x2="1711.6" y2="1442.7" stroke="#6a6a6a" stroke-width="1.6"/>
<line x1="1012.7" y1="1442.7" x2="1012.7" y2="1436.2" stroke="#6a6a6a" stroke-width="1.3"/>
<text x="992.03" y="1474.30" class="tk" textLength="41.33" lengthAdjust="spacingAndGlyphs">-0.5</text>
<line x1="1152.4" y1="1442.7" x2="1152.4" y2="1436.2" stroke="#6a6a6a" stroke-width="1.3"/>
<text x="1145.69" y="1474.30" class="tk" textLength="13.34" lengthAdjust="spacingAndGlyphs">0</text>
<line x1="1292" y1="1442.7" x2="1292" y2="1436.2" stroke="#6a6a6a" stroke-width="1.3"/>
<text x="1275.35" y="1474.30" class="tk" textLength="33.34" lengthAdjust="spacingAndGlyphs">0.5</text>
<line x1="1431.7" y1="1442.7" x2="1431.7" y2="1436.2" stroke="#6a6a6a" stroke-width="1.3"/>
<text x="1425.01" y="1474.30" class="tk" textLength="13.34" lengthAdjust="spacingAndGlyphs">1</text>
<line x1="1571.3" y1="1442.7" x2="1571.3" y2="1436.2" stroke="#6a6a6a" stroke-width="1.3"/>
<text x="1554.67" y="1474.30" class="tk" textLength="33.34" lengthAdjust="spacingAndGlyphs">1.5</text>
<line x1="1711" y1="1442.7" x2="1711" y2="1436.2" stroke="#6a6a6a" stroke-width="1.3"/>
<text x="1704.33" y="1474.30" class="tk" textLength="13.34" lengthAdjust="spacingAndGlyphs">2</text>
<line x1="1012.7" y1="1442.7" x2="1019.2" y2="1442.7" stroke="#6a6a6a" stroke-width="1.3"/>
<text x="969.83" y="1452.90" class="tk" textLength="34.67" lengthAdjust="spacingAndGlyphs">-20</text>
<line x1="1012.7" y1="1358.7" x2="1019.2" y2="1358.7" stroke="#6a6a6a" stroke-width="1.3"/>
<text x="969.83" y="1368.87" class="tk" textLength="34.67" lengthAdjust="spacingAndGlyphs">-15</text>
<line x1="1012.7" y1="1274.6" x2="1019.2" y2="1274.6" stroke="#6a6a6a" stroke-width="1.3"/>
<text x="969.83" y="1284.84" class="tk" textLength="34.67" lengthAdjust="spacingAndGlyphs">-10</text>
<line x1="1012.7" y1="1190.6" x2="1019.2" y2="1190.6" stroke="#6a6a6a" stroke-width="1.3"/>
<text x="983.17" y="1200.81" class="tk" textLength="21.33" lengthAdjust="spacingAndGlyphs">-5</text>
<line x1="1012.7" y1="1106.6" x2="1019.2" y2="1106.6" stroke="#6a6a6a" stroke-width="1.3"/>
<text x="991.16" y="1116.79" class="tk" textLength="13.34" lengthAdjust="spacingAndGlyphs">0</text>
<line x1="1012.7" y1="1022.6" x2="1019.2" y2="1022.6" stroke="#6a6a6a" stroke-width="1.3"/>
<text x="991.16" y="1032.76" class="tk" textLength="13.34" lengthAdjust="spacingAndGlyphs">5</text>
<line x1="1012.7" y1="938.5" x2="1019.2" y2="938.5" stroke="#6a6a6a" stroke-width="1.3"/>
<text x="977.82" y="948.73" class="tk" textLength="26.68" lengthAdjust="spacingAndGlyphs">10</text>
<line x1="1012.7" y1="854.5" x2="1019.2" y2="854.5" stroke="#6a6a6a" stroke-width="1.3"/>
<text x="977.82" y="864.70" class="tk" textLength="26.68" lengthAdjust="spacingAndGlyphs">15</text>
<text x="1193.98" y="1505.10" class="lb" textLength="334.61" lengthAdjust="spacingAndGlyphs">Camera Movement Angle (°)</text>
<text transform="translate(959.80,1268.70) rotate(-90)" x="-2.19" y="0" class="lb" textLength="243.39" lengthAdjust="spacingAndGlyphs">Error by Model (mm)</text>
<rect x="1053" y="1327.8" width="20" height="20" fill="none" stroke="#F5141C" stroke-width="3.4"/>
<path d="M1051.6 1371H1074.4M1063 1359.6V1382.4" stroke="#FFBF00" stroke-width="5.3" fill="none"/>
<path d="M1054.2 1392.5L1071.8 1410M1054.2 1410L1071.8 1392.5" stroke="#00A146" stroke-width="5" fill="none"/>
<text x="1083.46" y="1346.80" class="lg" textLength="83.56" lengthAdjust="spacingAndGlyphs">Model 1</text>
<text x="1083.40" y="1376.30" class="lg" textLength="86.32" lengthAdjust="spacingAndGlyphs">Model 2</text>
<text x="1083.40" y="1406.90" class="lg" textLength="86.13" lengthAdjust="spacingAndGlyphs">Model 3</text>
<text x="1328.01" y="1553.30" class="pl" textLength="37.57" lengthAdjust="spacingAndGlyphs">(d)</text>
<path d="M226.8 1863.8V1788.3M226.8 2072.5V1958" stroke="#000" stroke-width="5.8" stroke-dasharray="21.8 21.3" fill="none"/>
<path d="M200.5 1788.3H253.1M200.5 2072.5H253.1" stroke="#000" stroke-width="5.8" fill="none"/>
<rect x="174.4" y="1863.8" width="104.8" height="94.1" fill="none" stroke="#0000F2" stroke-width="5.4" stroke-linejoin="round"/>
<line x1="174.4" y1="1904.3" x2="279.2" y2="1904.3" stroke="#FF0000" stroke-width="5.8"/>
<path d="M214.6 2154.7H239.1M226.8 2142.4V2166.9" stroke="#E8141C" stroke-width="2.2" fill="none"/>
<path d="M214.6 2198.7H239.1M226.8 2186.4V2210.9" stroke="#E8141C" stroke-width="2.2" fill="none"/>
<path d="M459.5 1848.4V1746.4M459.5 2059.9V1940.4" stroke="#000" stroke-width="5.8" stroke-dasharray="21.8 21.3" fill="none"/>
<path d="M433.2 1746.4H485.8M433.2 2059.9H485.8" stroke="#000" stroke-width="5.8" fill="none"/>
<rect x="407.1" y="1848.4" width="104.8" height="92" fill="none" stroke="#0000F2" stroke-width="5.4" stroke-linejoin="round"/>
<line x1="407.1" y1="1887.9" x2="511.9" y2="1887.9" stroke="#FF0000" stroke-width="5.8"/>
<path d="M447.2 1662.4H471.8M459.5 1650.2V1674.7" stroke="#E8141C" stroke-width="2.2" fill="none"/>
<path d="M447.2 1694.1H471.8M459.5 1681.9V1706.4" stroke="#E8141C" stroke-width="2.2" fill="none"/>
<path d="M692.2 1856.8V1757.9M692.2 2048.6V1942.2" stroke="#000" stroke-width="5.8" stroke-dasharray="21.8 21.3" fill="none"/>
<path d="M665.9 1757.9H718.5M665.9 2048.6H718.5" stroke="#000" stroke-width="5.8" fill="none"/>
<rect x="639.8" y="1856.8" width="104.8" height="85.3" fill="none" stroke="#0000F2" stroke-width="5.4" stroke-linejoin="round"/>
<line x1="639.8" y1="1897.4" x2="744.6" y2="1897.4" stroke="#FF0000" stroke-width="5.8"/>
<path d="M679.9 2157.2H704.4M692.2 2144.9V2169.4" stroke="#E8141C" stroke-width="2.2" fill="none"/>
<line x1="110.5" y1="1636.7" x2="110.5" y2="2225.5" stroke="#6a6a6a" stroke-width="1.3"/>
<line x1="109.9" y1="2225.5" x2="809.1" y2="2225.5" stroke="#6a6a6a" stroke-width="1.6"/>
<line x1="808.5" y1="1636.7" x2="808.5" y2="2225.5" stroke="#6a6a6a" stroke-width="1.3"/>
<line x1="109.9" y1="1636.7" x2="809.1" y2="1636.7" stroke="#6a6a6a" stroke-width="1.3"/>
<line x1="226.8" y1="2225.5" x2="226.8" y2="2219" stroke="#6a6a6a" stroke-width="1.3"/>
<line x1="226.8" y1="1636.7" x2="226.8" y2="1643.2" stroke="#6a6a6a" stroke-width="1.3"/>
<text x="220.16" y="2257.10" class="tk" textLength="13.34" lengthAdjust="spacingAndGlyphs">1</text>
<line x1="459.5" y1="2225.5" x2="459.5" y2="2219" stroke="#6a6a6a" stroke-width="1.3"/>
<line x1="459.5" y1="1636.7" x2="459.5" y2="1643.2" stroke="#6a6a6a" stroke-width="1.3"/>
<text x="452.83" y="2257.10" class="tk" textLength="13.34" lengthAdjust="spacingAndGlyphs">2</text>
<line x1="692.2" y1="2225.5" x2="692.2" y2="2219" stroke="#6a6a6a" stroke-width="1.3"/>
<line x1="692.2" y1="1636.7" x2="692.2" y2="1643.2" stroke="#6a6a6a" stroke-width="1.3"/>
<text x="685.50" y="2257.10" class="tk" textLength="13.34" lengthAdjust="spacingAndGlyphs">3</text>
<line x1="110.5" y1="2148.9" x2="117" y2="2148.9" stroke="#6a6a6a" stroke-width="1.3"/>
<line x1="808.5" y1="2148.9" x2="802" y2="2148.9" stroke="#6a6a6a" stroke-width="1.3"/>
<text x="67.63" y="2159.08" class="tk" textLength="34.67" lengthAdjust="spacingAndGlyphs">-15</text>
<line x1="110.5" y1="2065.9" x2="117" y2="2065.9" stroke="#6a6a6a" stroke-width="1.3"/>
<line x1="808.5" y1="2065.9" x2="802" y2="2065.9" stroke="#6a6a6a" stroke-width="1.3"/>
<text x="67.63" y="2076.07" class="tk" textLength="34.67" lengthAdjust="spacingAndGlyphs">-10</text>
<line x1="110.5" y1="1982.9" x2="117" y2="1982.9" stroke="#6a6a6a" stroke-width="1.3"/>
<line x1="808.5" y1="1982.9" x2="802" y2="1982.9" stroke="#6a6a6a" stroke-width="1.3"/>
<text x="80.97" y="1993.06" class="tk" textLength="21.33" lengthAdjust="spacingAndGlyphs">-5</text>
<line x1="110.5" y1="1899.8" x2="117" y2="1899.8" stroke="#6a6a6a" stroke-width="1.3"/>
<line x1="808.5" y1="1899.8" x2="802" y2="1899.8" stroke="#6a6a6a" stroke-width="1.3"/>
<text x="88.96" y="1910.05" class="tk" textLength="13.34" lengthAdjust="spacingAndGlyphs">0</text>
<line x1="110.5" y1="1816.8" x2="117" y2="1816.8" stroke="#6a6a6a" stroke-width="1.3"/>
<line x1="808.5" y1="1816.8" x2="802" y2="1816.8" stroke="#6a6a6a" stroke-width="1.3"/>
<text x="88.96" y="1827.03" class="tk" textLength="13.34" lengthAdjust="spacingAndGlyphs">5</text>
<line x1="110.5" y1="1733.8" x2="117" y2="1733.8" stroke="#6a6a6a" stroke-width="1.3"/>
<line x1="808.5" y1="1733.8" x2="802" y2="1733.8" stroke="#6a6a6a" stroke-width="1.3"/>
<text x="75.62" y="1744.02" class="tk" textLength="26.68" lengthAdjust="spacingAndGlyphs">10</text>
<line x1="110.5" y1="1650.8" x2="117" y2="1650.8" stroke="#6a6a6a" stroke-width="1.3"/>
<line x1="808.5" y1="1650.8" x2="802" y2="1650.8" stroke="#6a6a6a" stroke-width="1.3"/>
<text x="75.62" y="1661.01" class="tk" textLength="26.68" lengthAdjust="spacingAndGlyphs">15</text>
<text x="422.91" y="2290.90" class="lb" textLength="72.35" lengthAdjust="spacingAndGlyphs">Model</text>
<text transform="translate(56.80,1993.30) rotate(-90)" x="-2.20" y="0" class="lb" textLength="128.89" lengthAdjust="spacingAndGlyphs">Error (mm)</text>
<text x="426.44" y="2353.00" class="pl" textLength="34.12" lengthAdjust="spacingAndGlyphs">(e)</text>
<clipPath id="clipF"><rect x="1011.5" y="1634" width="699.0" height="593.1999999999998"/></clipPath>
<g clip-path="url(#clipF)">
<path d="M1018.4 2227.2 L1018.4 2217.2 L1018.7 2217.2 L1018.7 2207.2 L1018.9 2207.2 L1018.9 2197.2 L1024.1 2197.2 L1024.1 2187.3 L1024.5 2187.3 L1024.5 2177.3 L1024.6 2177.3 L1024.6 2167.3 L1024.8 2167.3 L1024.8 2157.3 L1029.2 2157.3 L1029.2 2147.3 L1049.9 2147.3 L1049.9 2137.3 L1050.4 2137.3 L1050.4 2127.3 L1050.9 2127.3 L1050.9 2117.3 L1052.1 2117.3 L1052.1 2107.4 L1053.4 2107.4 L1053.4 2097.4 L1055.2 2097.4 L1055.2 2087.4 L1057.4 2087.4 L1057.4 2077.4 L1058.1 2077.4 L1058.1 2067.4 L1059.2 2067.4 L1059.2 2057.4 L1060.7 2057.4 L1060.7 2047.4 L1064.2 2047.4 L1064.2 2037.5 L1069.5 2037.5 L1069.5 2027.5 L1078.9 2027.5 L1078.9 2017.5 L1092.5 2017.5 L1092.5 2007.5 L1100.2 2007.5 L1100.2 1997.5 L1107.5 1997.5 L1107.5 1987.5 L1110.4 1987.5 L1110.4 1977.5 L1112.7 1977.5 L1112.7 1967.6 L1118.1 1967.6 L1118.1 1957.6 L1119.8 1957.6 L1119.8 1947.6 L1133.8 1947.6 L1133.8 1937.6 L1135.5 1937.6 L1135.5 1927.6 L1138.2 1927.6 L1138.2 1917.6 L1141.9 1917.6 L1141.9 1907.6 L1145.7 1907.6 L1145.7 1897.6 L1149.4 1897.6 L1149.4 1887.7 L1155.1 1887.7 L1155.1 1877.7 L1170.8 1877.7 L1170.8 1867.7 L1177.2 1867.7 L1177.2 1857.7 L1182.2 1857.7 L1182.2 1847.7 L1209 1847.7 L1209 1837.7 L1210.5 1837.7 L1210.5 1827.7 L1212.9 1827.7 L1212.9 1817.8 L1215.9 1817.8 L1215.9 1807.8 L1219 1807.8 L1219 1797.8 L1236.5 1797.8 L1236.5 1787.8 L1239.8 1787.8 L1239.8 1777.8 L1249.4 1777.8 L1249.4 1767.8 L1257.9 1767.8 L1257.9 1757.8 L1263 1757.8 L1263 1747.9 L1268 1747.9 L1268 1737.9 L1272.8 1737.9 L1272.8 1727.9 L1280.9 1727.9 L1280.9 1717.9 L1290.8 1717.9 L1290.8 1707.9 L1338.9 1707.9 L1338.9 1697.9 L1389.2 1697.9 L1389.2 1687.9 L1394.9 1687.9 L1394.9 1677.9 L1403.4 1677.9 L1403.4 1668 L1410.4 1668 L1410.4 1658 L1602 1658 L1602 1648 L1703.6 1648 L1703.6 1638" stroke="#FF0000" stroke-width="6" fill="none" stroke-linejoin="miter"/>
<path d="M1017.2 2227.2 L1017.2 2217.2 L1017.3 2217.2 L1017.3 2207.2 L1017.5 2207.2 L1017.5 2197.2 L1036.6 2197.2 L1036.6 2187.3 L1046.4 2187.3 L1046.4 2177.3 L1046.5 2177.3 L1046.5 2167.3 L1046.7 2167.3 L1046.7 2157.3 L1051.4 2157.3 L1051.4 2147.3 L1051.6 2147.3 L1051.6 2137.3 L1060.3 2137.3 L1060.3 2127.3 L1065 2127.3 L1065 2117.3 L1067.9 2117.3 L1067.9 2107.4 L1069.1 2107.4 L1069.1 2097.4 L1070.4 2097.4 L1070.4 2087.4 L1076.6 2087.4 L1076.6 2077.4 L1078.3 2077.4 L1078.3 2067.4 L1080 2067.4 L1080 2057.4 L1082.6 2057.4 L1082.6 2047.4 L1087 2047.4 L1087 2037.5 L1092 2037.5 L1092 2027.5 L1095.7 2027.5 L1095.7 2017.5 L1097.7 2017.5 L1097.7 2007.5 L1099.7 2007.5 L1099.7 1997.5 L1100.7 1997.5 L1100.7 1987.5 L1101.6 1987.5 L1101.6 1977.5 L1106.9 1977.5 L1106.9 1967.6 L1112.6 1967.6 L1112.6 1957.6 L1116.9 1957.6 L1116.9 1947.6 L1121.5 1947.6 L1121.5 1937.6 L1126.4 1937.6 L1126.4 1927.6 L1131 1927.6 L1131 1917.6 L1135.5 1917.6 L1135.5 1907.6 L1140.1 1907.6 L1140.1 1897.6 L1146.5 1897.6 L1146.5 1887.7 L1155.2 1887.7 L1155.2 1877.7 L1163.5 1877.7 L1163.5 1867.7 L1169 1867.7 L1169 1857.7 L1174.6 1857.7 L1174.6 1847.7 L1179.7 1847.7 L1179.7 1837.7 L1184.2 1837.7 L1184.2 1827.7 L1189.1 1827.7 L1189.1 1817.8 L1198 1817.8 L1198 1807.8 L1206.7 1807.8 L1206.7 1797.8 L1215.2 1797.8 L1215.2 1787.8 L1245.1 1787.8 L1245.1 1777.8 L1266 1777.8 L1266 1767.8 L1268.3 1767.8 L1268.3 1757.8 L1271.7 1757.8 L1271.7 1747.9 L1277.6 1747.9 L1277.6 1737.9 L1283.9 1737.9 L1283.9 1727.9 L1290.6 1727.9 L1290.6 1717.9 L1295.9 1717.9 L1295.9 1707.9 L1300.3 1707.9 L1300.3 1697.9 L1305.8 1697.9 L1305.8 1687.9 L1363.9 1687.9 L1363.9 1677.9 L1373.4 1677.9 L1373.4 1668 L1384.3 1668 L1384.3 1658 L1492.3 1658 L1492.3 1648 L1566.2 1648 L1566.2 1638" stroke="#F9B10F" stroke-width="6" fill="none" stroke-linejoin="miter"/>
<path d="M1023.7 2227.2 L1023.7 2217.2 L1023.9 2217.2 L1023.9 2207.2 L1024 2207.2 L1024 2197.2 L1029.5 2197.2 L1029.5 2187.3 L1029.7 2187.3 L1029.7 2177.3 L1034.5 2177.3 L1034.5 2167.3 L1034.6 2167.3 L1034.6 2157.3 L1034.7 2157.3 L1034.7 2147.3 L1038.4 2147.3 L1038.4 2137.3 L1039.3 2137.3 L1039.3 2127.3 L1042.3 2127.3 L1042.3 2117.3 L1062.9 2117.3 L1062.9 2107.4 L1064.3 2107.4 L1064.3 2097.4 L1065.8 2097.4 L1065.8 2087.4 L1067.2 2087.4 L1067.2 2077.4 L1068.5 2077.4 L1068.5 2067.4 L1069.9 2067.4 L1069.9 2057.4 L1071.4 2057.4 L1071.4 2047.4 L1073.7 2047.4 L1073.7 2037.5 L1076.1 2037.5 L1076.1 2027.5 L1081.2 2027.5 L1081.2 2017.5 L1086.5 2017.5 L1086.5 2007.5 L1089.8 2007.5 L1089.8 1997.5 L1092.4 1997.5 L1092.4 1987.5 L1094.9 1987.5 L1094.9 1977.5 L1097.2 1977.5 L1097.2 1967.6 L1099.5 1967.6 L1099.5 1957.6 L1104.5 1957.6 L1104.5 1947.6 L1108.8 1947.6 L1108.8 1937.6 L1112.9 1937.6 L1112.9 1927.6 L1117.2 1927.6 L1117.2 1917.6 L1121.5 1917.6 L1121.5 1907.6 L1125.7 1907.6 L1125.7 1897.6 L1132.8 1897.6 L1132.8 1887.7 L1140.7 1887.7 L1140.7 1877.7 L1148.7 1877.7 L1148.7 1867.7 L1155.1 1867.7 L1155.1 1857.7 L1160.2 1857.7 L1160.2 1847.7 L1165.2 1847.7 L1165.2 1837.7 L1169.7 1837.7 L1169.7 1827.7 L1174 1827.7 L1174 1817.8 L1177.8 1817.8 L1177.8 1807.8 L1181.6 1807.8 L1181.6 1797.8 L1185.5 1797.8 L1185.5 1787.8 L1198.1 1787.8 L1198.1 1777.8 L1209.4 1777.8 L1209.4 1767.8 L1216.3 1767.8 L1216.3 1757.8 L1218.5 1757.8 L1218.5 1747.9 L1220.8 1747.9 L1220.8 1737.9 L1223 1737.9 L1223 1727.9 L1233.6 1727.9 L1233.6 1717.9 L1242.9 1717.9 L1242.9 1707.9 L1268.4 1707.9 L1268.4 1697.9 L1278.9 1697.9 L1278.9 1687.9 L1308.5 1687.9 L1308.5 1677.9 L1336.8 1677.9 L1336.8 1668 L1342.9 1668 L1342.9 1658 L1356.8 1658 L1356.8 1648 L1613.1 1648 L1613.1 1638" stroke="#58AD22" stroke-width="6" fill="none" stroke-linejoin="miter"/>
</g>
<line x1="1011.5" y1="1638" x2="1011.5" y2="2227.2" stroke="#6a6a6a" stroke-width="1.3"/>
<line x1="1010.9" y1="2227.2" x2="1711.1" y2="2227.2" stroke="#6a6a6a" stroke-width="1.6"/>
<line x1="1710.5" y1="1638" x2="1710.5" y2="2227.2" stroke="#6a6a6a" stroke-width="1.3"/>
<line x1="1010.9" y1="1638" x2="1711.1" y2="1638" stroke="#6a6a6a" stroke-width="1.3"/>
<line x1="1017.1" y1="2227.2" x2="1017.1" y2="2220.7" stroke="#6a6a6a" stroke-width="1.3"/>
<line x1="1017.1" y1="1638" x2="1017.1" y2="1644.5" stroke="#6a6a6a" stroke-width="1.3"/>
<text x="1010.45" y="2258.80" class="tk" textLength="13.34" lengthAdjust="spacingAndGlyphs">0</text>
<line x1="1209.5" y1="2227.2" x2="1209.5" y2="2220.7" stroke="#6a6a6a" stroke-width="1.3"/>
<line x1="1209.5" y1="1638" x2="1209.5" y2="1644.5" stroke="#6a6a6a" stroke-width="1.3"/>
<text x="1202.84" y="2258.80" class="tk" textLength="13.34" lengthAdjust="spacingAndGlyphs">5</text>
<line x1="1401.9" y1="2227.2" x2="1401.9" y2="2220.7" stroke="#6a6a6a" stroke-width="1.3"/>
<line x1="1401.9" y1="1638" x2="1401.9" y2="1644.5" stroke="#6a6a6a" stroke-width="1.3"/>
<text x="1388.56" y="2258.80" class="tk" textLength="26.68" lengthAdjust="spacingAndGlyphs">10</text>
<line x1="1594.3" y1="2227.2" x2="1594.3" y2="2220.7" stroke="#6a6a6a" stroke-width="1.3"/>
<line x1="1594.3" y1="1638" x2="1594.3" y2="1644.5" stroke="#6a6a6a" stroke-width="1.3"/>
<text x="1580.96" y="2258.80" class="tk" textLength="26.68" lengthAdjust="spacingAndGlyphs">15</text>
<line x1="1011.5" y1="2227.2" x2="1018" y2="2227.2" stroke="#6a6a6a" stroke-width="1.3"/>
<line x1="1710.5" y1="2227.2" x2="1704" y2="2227.2" stroke="#6a6a6a" stroke-width="1.3"/>
<text x="989.96" y="2237.40" class="tk" textLength="13.34" lengthAdjust="spacingAndGlyphs">0</text>
<line x1="1011.5" y1="2168.3" x2="1018" y2="2168.3" stroke="#6a6a6a" stroke-width="1.3"/>
<line x1="1710.5" y1="2168.3" x2="1704" y2="2168.3" stroke="#6a6a6a" stroke-width="1.3"/>
<text x="969.96" y="2178.48" class="tk" textLength="33.34" lengthAdjust="spacingAndGlyphs">0.1</text>
<line x1="1011.5" y1="2109.4" x2="1018" y2="2109.4" stroke="#6a6a6a" stroke-width="1.3"/>
<line x1="1710.5" y1="2109.4" x2="1704" y2="2109.4" stroke="#6a6a6a" stroke-width="1.3"/>
<text x="969.96" y="2119.56" class="tk" textLength="33.34" lengthAdjust="spacingAndGlyphs">0.2</text>
<line x1="1011.5" y1="2050.4" x2="1018" y2="2050.4" stroke="#6a6a6a" stroke-width="1.3"/>
<line x1="1710.5" y1="2050.4" x2="1704" y2="2050.4" stroke="#6a6a6a" stroke-width="1.3"/>
<text x="969.96" y="2060.64" class="tk" textLength="33.34" lengthAdjust="spacingAndGlyphs">0.3</text>
<line x1="1011.5" y1="1991.5" x2="1018" y2="1991.5" stroke="#6a6a6a" stroke-width="1.3"/>
<line x1="1710.5" y1="1991.5" x2="1704" y2="1991.5" stroke="#6a6a6a" stroke-width="1.3"/>
<text x="969.96" y="2001.72" class="tk" textLength="33.34" lengthAdjust="spacingAndGlyphs">0.4</text>
<line x1="1011.5" y1="1932.6" x2="1018" y2="1932.6" stroke="#6a6a6a" stroke-width="1.3"/>
<line x1="1710.5" y1="1932.6" x2="1704" y2="1932.6" stroke="#6a6a6a" stroke-width="1.3"/>
<text x="969.96" y="1942.80" class="tk" textLength="33.34" lengthAdjust="spacingAndGlyphs">0.5</text>
<line x1="1011.5" y1="1873.7" x2="1018" y2="1873.7" stroke="#6a6a6a" stroke-width="1.3"/>
<line x1="1710.5" y1="1873.7" x2="1704" y2="1873.7" stroke="#6a6a6a" stroke-width="1.3"/>
<text x="969.96" y="1883.88" class="tk" textLength="33.34" lengthAdjust="spacingAndGlyphs">0.6</text>
<line x1="1011.5" y1="1814.8" x2="1018" y2="1814.8" stroke="#6a6a6a" stroke-width="1.3"/>
<line x1="1710.5" y1="1814.8" x2="1704" y2="1814.8" stroke="#6a6a6a" stroke-width="1.3"/>
<text x="969.96" y="1824.96" class="tk" textLength="33.34" lengthAdjust="spacingAndGlyphs">0.7</text>
<line x1="1011.5" y1="1755.8" x2="1018" y2="1755.8" stroke="#6a6a6a" stroke-width="1.3"/>
<line x1="1710.5" y1="1755.8" x2="1704" y2="1755.8" stroke="#6a6a6a" stroke-width="1.3"/>
<text x="969.96" y="1766.04" class="tk" textLength="33.34" lengthAdjust="spacingAndGlyphs">0.8</text>
<line x1="1011.5" y1="1696.9" x2="1018" y2="1696.9" stroke="#6a6a6a" stroke-width="1.3"/>
<line x1="1710.5" y1="1696.9" x2="1704" y2="1696.9" stroke="#6a6a6a" stroke-width="1.3"/>
<text x="969.96" y="1707.12" class="tk" textLength="33.34" lengthAdjust="spacingAndGlyphs">0.9</text>
<line x1="1011.5" y1="1638" x2="1018" y2="1638" stroke="#6a6a6a" stroke-width="1.3"/>
<line x1="1710.5" y1="1638" x2="1704" y2="1638" stroke="#6a6a6a" stroke-width="1.3"/>
<text x="989.96" y="1648.20" class="tk" textLength="13.34" lengthAdjust="spacingAndGlyphs">1</text>
<text x="1253.01" y="2291.50" class="lb" textLength="216.37" lengthAdjust="spacingAndGlyphs">Size of Error (mm)</text>
<text transform="translate(959.40,1959.40) rotate(-90)" x="-1.31" y="0" class="lb" textLength="53.97" lengthAdjust="spacingAndGlyphs">CDF</text>
<line x1="1562.3" y1="2128.6" x2="1597.7" y2="2128.6" stroke="#FF0000" stroke-width="6"/>
<text x="1599.66" y="2138.70" class="lg" textLength="83.56" lengthAdjust="spacingAndGlyphs">Model 1</text>
<line x1="1562.3" y1="2159.1" x2="1597.7" y2="2159.1" stroke="#F9B10F" stroke-width="6"/>
<text x="1599.60" y="2168.60" class="lg" textLength="86.32" lengthAdjust="spacingAndGlyphs">Model 2</text>
<line x1="1562.3" y1="2189.4" x2="1597.7" y2="2189.4" stroke="#58AD22" stroke-width="6"/>
<text x="1599.60" y="2199.20" class="lg" textLength="86.13" lengthAdjust="spacingAndGlyphs">Model 3</text>
<text x="1331.35" y="2349.50" class="pl" textLength="30.71" lengthAdjust="spacingAndGlyphs">(f)</text>
</svg>
</body></html>
